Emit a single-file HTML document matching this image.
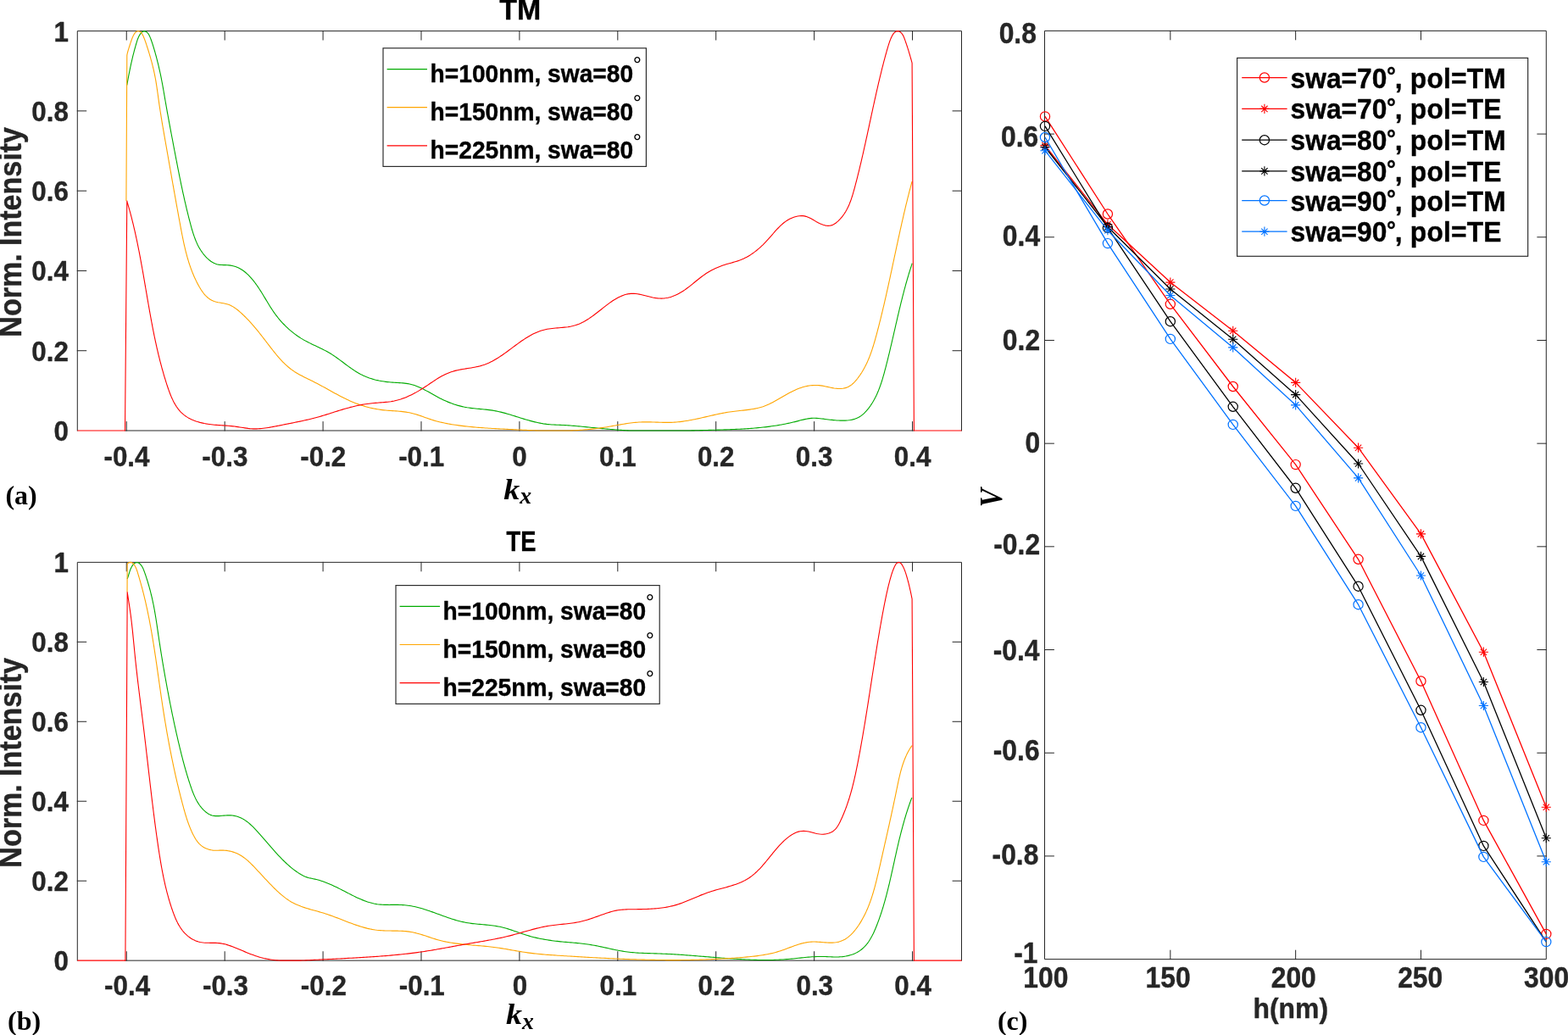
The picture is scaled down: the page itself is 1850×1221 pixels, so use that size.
<!DOCTYPE html>
<html lang="en"><head><meta charset="utf-8"><title>Figure: normalized intensity and V versus h</title>
<style>html,body{margin:0;padding:0;background:#fff}body{width:1850px;height:1221px;overflow:hidden}svg{display:block}</style>
</head><body>
<svg width="1850" height="1221" viewBox="0 0 1850 1221">
<rect width="1850" height="1221" fill="#fff"/>
<defs>
<clipPath id="clipa"><rect x="90.3" y="35.6" width="1045.2" height="473.4"/></clipPath>
<clipPath id="clipb"><rect x="90.3" y="662.35" width="1045.2" height="471.8"/></clipPath>
</defs>
<path d="M91.3 508V36.6H1134.5V508M147.6 508H1078.3M149.26 508v-10.4M149.26 36.6v10.4M265.17 508v-10.4M265.17 36.6v10.4M381.08 508v-10.4M381.08 36.6v10.4M496.99 508v-10.4M496.99 36.6v10.4M612.9 508v-10.4M612.9 36.6v10.4M728.81 508v-10.4M728.81 36.6v10.4M844.72 508v-10.4M844.72 36.6v10.4M960.63 508v-10.4M960.63 36.6v10.4M1076.54 508v-10.4M1076.54 36.6v10.4M91.3 413.72h10.4M1134.5 413.72h-10.4M91.3 319.44h10.4M1134.5 319.44h-10.4M91.3 225.16h10.4M1134.5 225.16h-10.4M91.3 130.88h10.4M1134.5 130.88h-10.4" fill="none" stroke="#262626" stroke-width="1.0" stroke-linecap="square"/>
<text transform="translate(149.46 550.2) scale(0.925 1)" font-family="'Liberation Sans', Arial, Helvetica, sans-serif" font-size="33.9" font-weight="bold" text-anchor="middle" fill="#262626" stroke="#262626" stroke-width="0.4" stroke-linejoin="round">-0.4</text>
<text transform="translate(265.37 550.2) scale(0.925 1)" font-family="'Liberation Sans', Arial, Helvetica, sans-serif" font-size="33.9" font-weight="bold" text-anchor="middle" fill="#262626" stroke="#262626" stroke-width="0.4" stroke-linejoin="round">-0.3</text>
<text transform="translate(381.28 550.2) scale(0.925 1)" font-family="'Liberation Sans', Arial, Helvetica, sans-serif" font-size="33.9" font-weight="bold" text-anchor="middle" fill="#262626" stroke="#262626" stroke-width="0.4" stroke-linejoin="round">-0.2</text>
<text transform="translate(497.19 550.2) scale(0.925 1)" font-family="'Liberation Sans', Arial, Helvetica, sans-serif" font-size="33.9" font-weight="bold" text-anchor="middle" fill="#262626" stroke="#262626" stroke-width="0.4" stroke-linejoin="round">-0.1</text>
<text transform="translate(612.9 550.2) scale(0.925 1)" font-family="'Liberation Sans', Arial, Helvetica, sans-serif" font-size="33.9" font-weight="bold" text-anchor="middle" fill="#262626" stroke="#262626" stroke-width="0.4" stroke-linejoin="round">0</text>
<text transform="translate(728.81 550.2) scale(0.925 1)" font-family="'Liberation Sans', Arial, Helvetica, sans-serif" font-size="33.9" font-weight="bold" text-anchor="middle" fill="#262626" stroke="#262626" stroke-width="0.4" stroke-linejoin="round">0.1</text>
<text transform="translate(844.72 550.2) scale(0.925 1)" font-family="'Liberation Sans', Arial, Helvetica, sans-serif" font-size="33.9" font-weight="bold" text-anchor="middle" fill="#262626" stroke="#262626" stroke-width="0.4" stroke-linejoin="round">0.2</text>
<text transform="translate(960.63 550.2) scale(0.925 1)" font-family="'Liberation Sans', Arial, Helvetica, sans-serif" font-size="33.9" font-weight="bold" text-anchor="middle" fill="#262626" stroke="#262626" stroke-width="0.4" stroke-linejoin="round">0.3</text>
<text transform="translate(1076.54 550.2) scale(0.925 1)" font-family="'Liberation Sans', Arial, Helvetica, sans-serif" font-size="33.9" font-weight="bold" text-anchor="middle" fill="#262626" stroke="#262626" stroke-width="0.4" stroke-linejoin="round">0.4</text>
<text transform="translate(80.9 519.9) scale(0.925 1)" font-family="'Liberation Sans', Arial, Helvetica, sans-serif" font-size="33.9" font-weight="bold" text-anchor="end" fill="#262626" stroke="#262626" stroke-width="0.4" stroke-linejoin="round">0</text>
<text transform="translate(80.9 425.62) scale(0.925 1)" font-family="'Liberation Sans', Arial, Helvetica, sans-serif" font-size="33.9" font-weight="bold" text-anchor="end" fill="#262626" stroke="#262626" stroke-width="0.4" stroke-linejoin="round">0.2</text>
<text transform="translate(80.9 331.34) scale(0.925 1)" font-family="'Liberation Sans', Arial, Helvetica, sans-serif" font-size="33.9" font-weight="bold" text-anchor="end" fill="#262626" stroke="#262626" stroke-width="0.4" stroke-linejoin="round">0.4</text>
<text transform="translate(80.9 237.06) scale(0.925 1)" font-family="'Liberation Sans', Arial, Helvetica, sans-serif" font-size="33.9" font-weight="bold" text-anchor="end" fill="#262626" stroke="#262626" stroke-width="0.4" stroke-linejoin="round">0.6</text>
<text transform="translate(80.9 142.78) scale(0.925 1)" font-family="'Liberation Sans', Arial, Helvetica, sans-serif" font-size="33.9" font-weight="bold" text-anchor="end" fill="#262626" stroke="#262626" stroke-width="0.4" stroke-linejoin="round">0.8</text>
<text transform="translate(80.9 48.5) scale(0.925 1)" font-family="'Liberation Sans', Arial, Helvetica, sans-serif" font-size="33.9" font-weight="bold" text-anchor="end" fill="#262626" stroke="#262626" stroke-width="0.4" stroke-linejoin="round">1</text>
<g clip-path="url(#clipa)">
<path d="M149.8 100.5L150.11 98.52L150.46 96.56L150.82 94.59L151.18 92.62L151.54 90.66L151.92 88.69L152.3 86.73L152.69 84.77L153.08 82.81L153.49 80.85L153.9 78.89L154.32 76.93L154.74 74.98L155.18 73.02L155.63 71.07L156.09 69.13L156.55 67.18L157.03 65.24L157.52 63.3L158.02 61.36L158.53 59.43L159.05 57.5L159.58 55.58L160.13 53.66L160.68 51.74L161.25 49.83L161.85 47.93L162.5 46.05L163.25 44.19L164.14 42.36L165.19 40.57L166.44 38.86L167.9 37.46L169.54 36.72L171.34 36.89L173.04 37.78L174.45 39.12L175.6 40.78L176.55 42.65L177.36 44.59L178.12 46.53L178.81 48.44L179.47 50.34L180.09 52.22L180.68 54.1L181.26 55.98L181.82 57.87L182.37 59.77L182.92 61.67L183.45 63.59L183.98 65.51L184.5 67.44L185.01 69.37L185.51 71.31L186 73.26L186.48 75.21L186.96 77.16L187.42 79.12L187.87 81.08L188.32 83.04L188.75 85L189.17 86.96L189.59 88.92L189.99 90.88L190.38 92.84L190.76 94.79L191.13 96.75L191.5 98.7L191.86 100.66L192.21 102.61L192.56 104.57L192.9 106.52L193.24 108.48L193.58 110.44L193.91 112.39L194.25 114.35L194.58 116.31L194.92 118.27L195.26 120.24L195.6 122.2L195.95 124.17L196.29 126.14L196.64 128.11L197 130.08L197.35 132.06L197.71 134.03L198.07 136.01L198.43 137.98L198.79 139.96L199.15 141.94L199.52 143.92L199.89 145.9L200.26 147.88L200.63 149.86L201 151.84L201.37 153.82L201.74 155.8L202.11 157.77L202.49 159.75L202.86 161.73L203.24 163.7L203.61 165.68L203.99 167.65L204.36 169.62L204.74 171.59L205.11 173.56L205.49 175.53L205.86 177.5L206.24 179.46L206.61 181.42L206.99 183.39L207.36 185.35L207.74 187.3L208.12 189.26L208.5 191.22L208.88 193.17L209.26 195.13L209.64 197.08L210.02 199.04L210.41 200.99L210.8 202.94L211.19 204.89L211.58 206.84L211.97 208.79L212.37 210.74L212.77 212.69L213.17 214.64L213.57 216.58L213.98 218.53L214.39 220.48L214.8 222.43L215.22 224.37L215.64 226.32L216.07 228.27L216.49 230.22L216.93 232.17L217.36 234.11L217.8 236.06L218.25 238.01L218.7 239.96L219.15 241.91L219.61 243.86L220.07 245.81L220.54 247.77L221.02 249.72L221.5 251.67L221.98 253.63L222.47 255.58L222.97 257.54L223.47 259.5L223.98 261.46L224.49 263.42L225.02 265.38L225.55 267.34L226.1 269.29L226.66 271.24L227.24 273.18L227.85 275.11L228.48 277.02L229.13 278.93L229.82 280.81L230.54 282.68L231.29 284.52L232.09 286.35L232.92 288.15L233.8 289.92L234.72 291.66L235.7 293.37L236.72 295.05L237.81 296.69L238.95 298.29L240.15 299.86L241.41 301.38L242.74 302.86L244.14 304.3L245.6 305.68L247.14 306.99L248.75 308.2L250.42 309.3L252.16 310.26L253.96 311.06L255.83 311.69L257.76 312.12L259.74 312.38L261.76 312.53L263.8 312.6L265.86 312.65L267.91 312.72L269.95 312.86L271.97 313.11L273.95 313.47L275.9 313.95L277.81 314.53L279.67 315.22L281.49 316.02L283.25 316.92L284.96 317.93L286.61 319.03L288.22 320.21L289.77 321.48L291.28 322.8L292.74 324.19L294.15 325.62L295.52 327.09L296.85 328.59L298.14 330.11L299.4 331.67L300.62 333.25L301.81 334.85L302.98 336.47L304.12 338.11L305.23 339.76L306.33 341.43L307.41 343.11L308.47 344.81L309.52 346.51L310.56 348.22L311.6 349.93L312.63 351.65L313.66 353.37L314.7 355.09L315.73 356.81L316.77 358.52L317.83 360.22L318.89 361.92L319.97 363.61L321.07 365.29L322.18 366.95L323.32 368.59L324.48 370.22L325.67 371.83L326.89 373.42L328.14 374.99L329.41 376.54L330.71 378.06L332.04 379.57L333.39 381.04L334.76 382.5L336.16 383.93L337.59 385.33L339.04 386.71L340.52 388.06L342.01 389.38L343.54 390.67L345.08 391.93L346.65 393.17L348.24 394.37L349.85 395.54L351.49 396.68L353.15 397.78L354.82 398.86L356.52 399.89L358.24 400.9L359.98 401.87L361.73 402.81L363.5 403.73L365.28 404.63L367.07 405.51L368.87 406.38L370.68 407.24L372.48 408.09L374.29 408.95L376.1 409.81L377.9 410.68L379.7 411.56L381.49 412.45L383.28 413.37L385.05 414.3L386.8 415.27L388.54 416.27L390.26 417.3L391.96 418.37L393.64 419.47L395.31 420.6L396.96 421.75L398.61 422.93L400.24 424.12L401.86 425.33L403.48 426.54L405.1 427.76L406.71 428.98L408.33 430.19L409.95 431.4L411.57 432.59L413.19 433.77L414.83 434.92L416.48 436.06L418.13 437.16L419.81 438.23L421.5 439.27L423.2 440.27L424.93 441.22L426.68 442.12L428.45 442.97L430.25 443.78L432.06 444.54L433.89 445.25L435.74 445.92L437.61 446.54L439.5 447.13L441.4 447.67L443.31 448.17L445.24 448.62L447.19 449.05L449.15 449.43L451.12 449.77L453.09 450.08L455.08 450.36L457.08 450.6L459.09 450.8L461.11 450.98L463.13 451.13L465.16 451.25L467.18 451.37L469.21 451.49L471.23 451.61L473.25 451.75L475.25 451.91L477.25 452.11L479.23 452.36L481.2 452.66L483.14 453.01L485.07 453.44L486.97 453.95L488.85 454.53L490.71 455.18L492.55 455.89L494.38 456.66L496.19 457.47L497.99 458.33L499.78 459.23L501.56 460.16L503.33 461.12L505.1 462.09L506.86 463.08L508.62 464.08L510.38 465.09L512.15 466.09L513.91 467.07L515.69 468.05L517.47 469L519.26 469.93L521.06 470.83L522.87 471.7L524.68 472.54L526.51 473.35L528.35 474.13L530.2 474.87L532.05 475.59L533.92 476.27L535.8 476.92L537.69 477.53L539.58 478.11L541.49 478.65L543.41 479.15L545.34 479.61L547.28 480.04L549.23 480.42L551.19 480.77L553.16 481.07L555.15 481.35L557.13 481.6L559.13 481.82L561.13 482.03L563.13 482.22L565.13 482.41L567.14 482.59L569.15 482.77L571.15 482.96L573.15 483.16L575.15 483.37L577.14 483.61L579.13 483.87L581.11 484.16L583.08 484.49L585.04 484.85L586.99 485.25L588.94 485.67L590.88 486.13L592.81 486.61L594.73 487.12L596.66 487.64L598.57 488.19L600.49 488.75L602.4 489.33L604.31 489.91L606.22 490.51L608.12 491.11L610.03 491.71L611.94 492.31L613.85 492.91L615.77 493.51L617.69 494.1L619.61 494.68L621.53 495.25L623.46 495.81L625.39 496.35L627.32 496.87L629.26 497.37L631.21 497.85L633.16 498.3L635.11 498.73L637.07 499.13L639.03 499.5L641 499.84L642.97 500.13L644.95 500.4L646.93 500.62L648.92 500.8L650.92 500.94L652.92 501.06L654.92 501.15L656.92 501.24L658.92 501.31L660.93 501.38L662.93 501.46L664.93 501.55L666.93 501.66L668.93 501.77L670.93 501.9L672.92 502.04L674.91 502.19L676.9 502.35L678.89 502.52L680.88 502.69L682.87 502.87L684.86 503.06L686.85 503.25L688.84 503.44L690.82 503.64L692.81 503.84L694.8 504.04L696.78 504.24L698.77 504.44L700.76 504.64L702.75 504.83L704.74 505.03L706.73 505.22L708.72 505.41L710.71 505.6L712.7 505.79L714.69 505.97L716.68 506.15L718.67 506.32L720.67 506.49L722.66 506.65L724.65 506.81L726.64 506.97L728.64 507.12L730.63 507.26L732.63 507.4L734.62 507.53L736.61 507.65L738.61 507.77L740.6 507.87L742.6 507.97L744.59 508L746.59 508L748.59 508L750.58 508L752.58 508L754.57 508L756.57 508L758.57 508L760.56 508L762.56 508L764.56 508L766.56 508L768.56 508L770.55 508L772.55 508L774.55 508L776.55 508L778.55 508L780.55 508L782.55 508L784.55 508L786.55 508L788.55 508L790.55 508L792.55 508L794.55 508L796.55 508L798.55 508L800.55 508L802.55 508L804.55 508L806.55 508L808.55 508L810.55 508L812.56 507.99L814.56 507.94L816.56 507.89L818.56 507.84L820.56 507.78L822.57 507.73L824.57 507.68L826.57 507.63L828.58 507.58L830.58 507.53L832.58 507.48L834.58 507.43L836.59 507.38L838.59 507.34L840.59 507.29L842.6 507.24L844.6 507.19L846.6 507.14L848.61 507.09L850.61 507.03L852.61 506.98L854.61 506.92L856.61 506.86L858.61 506.79L860.61 506.72L862.61 506.65L864.61 506.57L866.61 506.49L868.61 506.4L870.61 506.31L872.6 506.21L874.6 506.11L876.59 506L878.59 505.88L880.58 505.76L882.57 505.63L884.57 505.49L886.56 505.34L888.55 505.19L890.53 505.02L892.52 504.85L894.51 504.67L896.49 504.47L898.48 504.27L900.46 504.06L902.44 503.84L904.42 503.6L906.4 503.36L908.37 503.1L910.35 502.83L912.32 502.55L914.3 502.25L916.27 501.94L918.23 501.62L920.2 501.29L922.17 500.94L924.13 500.58L926.09 500.2L928.05 499.8L930.01 499.4L931.97 498.97L933.92 498.53L935.87 498.07L937.82 497.6L939.77 497.11L941.72 496.6L943.66 496.09L945.61 495.58L947.56 495.1L949.51 494.64L951.47 494.23L953.43 493.88L955.4 493.61L957.39 493.42L959.38 493.32L961.38 493.32L963.39 493.39L965.4 493.52L967.42 493.71L969.43 493.93L971.44 494.17L973.45 494.43L975.45 494.68L977.44 494.94L979.43 495.18L981.41 495.4L983.39 495.61L985.37 495.79L987.35 495.95L989.34 496.06L991.32 496.14L993.31 496.17L995.3 496.15L997.29 496.08L999.3 495.95L1001.3 495.75L1003.31 495.47L1005.29 495.1L1007.24 494.63L1009.16 494.05L1011.01 493.34L1012.8 492.5L1014.51 491.51L1016.16 490.39L1017.73 489.17L1019.23 487.84L1020.68 486.43L1022.06 484.94L1023.38 483.4L1024.65 481.81L1025.87 480.2L1027.04 478.56L1028.15 476.89L1029.23 475.2L1030.26 473.49L1031.24 471.76L1032.18 470.01L1033.09 468.25L1033.96 466.46L1034.79 464.65L1035.59 462.83L1036.36 461L1037.09 459.15L1037.8 457.29L1038.48 455.42L1039.14 453.53L1039.78 451.64L1040.39 449.73L1040.98 447.82L1041.56 445.9L1042.12 443.97L1042.67 442.04L1043.21 440.11L1043.73 438.17L1044.25 436.23L1044.76 434.29L1045.27 432.34L1045.77 430.4L1046.26 428.46L1046.75 426.51L1047.24 424.57L1047.72 422.62L1048.2 420.68L1048.67 418.73L1049.14 416.78L1049.61 414.84L1050.07 412.89L1050.53 410.94L1050.99 408.99L1051.45 407.04L1051.9 405.09L1052.36 403.15L1052.81 401.2L1053.26 399.25L1053.71 397.3L1054.15 395.35L1054.6 393.4L1055.04 391.45L1055.49 389.51L1055.94 387.56L1056.38 385.61L1056.83 383.66L1057.27 381.71L1057.72 379.77L1058.17 377.82L1058.62 375.88L1059.07 373.93L1059.53 371.99L1059.98 370.04L1060.44 368.1L1060.9 366.15L1061.36 364.21L1061.83 362.27L1062.3 360.33L1062.77 358.39L1063.25 356.45L1063.73 354.51L1064.22 352.57L1064.7 350.64L1065.2 348.7L1065.7 346.77L1066.2 344.83L1066.71 342.9L1067.22 340.97L1067.74 339.04L1068.27 337.11L1068.8 335.19L1069.34 333.26L1069.89 331.33L1070.44 329.41L1071 327.49L1071.57 325.57L1072.14 323.65L1072.72 321.73L1073.32 319.82L1073.92 317.91L1074.52 315.99L1075.14 314.08L1075.77 312.17L1076.1 310.6" fill="none" stroke="#00ab00" stroke-width="1.1" stroke-linejoin="round"/>
<path d="M148.91 237L149.8 65.4L150.15 63.46L150.61 61.51L151.15 59.56L151.75 57.62L152.38 55.68L153 53.78L153.6 51.9L154.19 50.05L154.81 48.21L155.47 46.36L156.21 44.5L157.05 42.61L158.02 40.69L159.16 38.92L160.55 37.53L162.23 36.77L164.1 36.8L165.82 37.65L167.18 39.19L168.25 40.97L169.13 42.81L169.9 44.67L170.62 46.53L171.32 48.41L171.98 50.29L172.63 52.17L173.25 54.06L173.86 55.96L174.47 57.86L175.06 59.77L175.65 61.68L176.23 63.59L176.8 65.51L177.35 67.44L177.9 69.36L178.44 71.29L178.96 73.23L179.47 75.16L179.97 77.1L180.45 79.05L180.92 80.99L181.37 82.94L181.8 84.9L182.22 86.85L182.62 88.81L183.01 90.77L183.37 92.73L183.72 94.7L184.06 96.67L184.38 98.64L184.69 100.61L184.99 102.58L185.28 104.55L185.57 106.53L185.84 108.5L186.12 110.48L186.39 112.46L186.66 114.43L186.94 116.41L187.21 118.39L187.49 120.37L187.77 122.35L188.06 124.32L188.35 126.3L188.65 128.28L188.95 130.26L189.26 132.23L189.57 134.21L189.89 136.19L190.2 138.16L190.53 140.14L190.85 142.11L191.18 144.09L191.51 146.06L191.84 148.04L192.18 150.01L192.52 151.99L192.86 153.96L193.2 155.94L193.54 157.91L193.88 159.88L194.23 161.85L194.57 163.83L194.92 165.8L195.27 167.77L195.62 169.74L195.96 171.71L196.31 173.68L196.66 175.65L197 177.62L197.35 179.59L197.7 181.56L198.04 183.53L198.39 185.5L198.73 187.47L199.08 189.44L199.42 191.4L199.77 193.37L200.12 195.34L200.46 197.31L200.81 199.27L201.15 201.24L201.5 203.21L201.84 205.17L202.19 207.14L202.54 209.11L202.88 211.08L203.23 213.04L203.58 215.01L203.92 216.97L204.27 218.94L204.62 220.91L204.97 222.87L205.32 224.84L205.67 226.81L206.02 228.77L206.37 230.74L206.72 232.71L207.07 234.68L207.42 236.64L207.78 238.61L208.13 240.58L208.49 242.54L208.84 244.51L209.2 246.48L209.55 248.45L209.91 250.42L210.27 252.39L210.63 254.36L210.99 256.32L211.35 258.29L211.71 260.26L212.08 262.23L212.44 264.21L212.81 266.18L213.17 268.15L213.54 270.12L213.92 272.09L214.29 274.06L214.67 276.03L215.06 278L215.45 279.96L215.85 281.93L216.26 283.89L216.68 285.85L217.1 287.81L217.54 289.76L217.99 291.71L218.45 293.66L218.92 295.6L219.41 297.54L219.91 299.48L220.43 301.41L220.96 303.33L221.51 305.25L222.08 307.16L222.66 309.07L223.27 310.97L223.9 312.86L224.54 314.75L225.21 316.63L225.91 318.5L226.62 320.37L227.36 322.22L228.13 324.07L228.92 325.91L229.73 327.74L230.58 329.56L231.45 331.37L232.36 333.17L233.29 334.96L234.26 336.74L235.25 338.51L236.29 340.25L237.36 341.97L238.49 343.64L239.66 345.26L240.89 346.81L242.18 348.29L243.54 349.69L244.97 350.99L246.48 352.19L248.07 353.27L249.75 354.23L251.52 355.05L253.38 355.73L255.33 356.27L257.36 356.7L259.43 357.07L261.51 357.42L263.6 357.77L265.66 358.18L267.67 358.68L269.61 359.31L271.47 360.06L273.27 360.92L275 361.89L276.67 362.95L278.3 364.09L279.88 365.29L281.42 366.55L282.93 367.84L284.41 369.16L285.87 370.51L287.31 371.87L288.73 373.25L290.13 374.65L291.52 376.06L292.88 377.49L294.23 378.93L295.57 380.39L296.89 381.87L298.2 383.36L299.49 384.86L300.78 386.37L302.05 387.89L303.32 389.43L304.58 390.97L305.83 392.53L307.07 394.09L308.31 395.66L309.55 397.24L310.78 398.83L312.01 400.42L313.24 402.02L314.47 403.63L315.7 405.24L316.93 406.85L318.17 408.46L319.41 410.07L320.65 411.68L321.91 413.28L323.17 414.87L324.45 416.45L325.73 418.02L327.03 419.57L328.35 421.11L329.68 422.62L331.03 424.11L332.4 425.58L333.78 427.02L335.19 428.43L336.63 429.81L338.09 431.16L339.57 432.47L341.08 433.74L342.62 434.98L344.19 436.17L345.8 437.31L347.43 438.41L349.1 439.46L350.79 440.48L352.51 441.47L354.24 442.42L356 443.36L357.77 444.27L359.55 445.17L361.35 446.05L363.15 446.93L364.95 447.81L366.75 448.69L368.56 449.57L370.35 450.47L372.14 451.39L373.93 452.31L375.71 453.25L377.48 454.2L379.25 455.15L381.01 456.12L382.78 457.09L384.53 458.06L386.29 459.04L388.05 460.01L389.8 460.99L391.56 461.96L393.32 462.93L395.07 463.9L396.83 464.85L398.6 465.8L400.36 466.74L402.13 467.67L403.91 468.58L405.69 469.48L407.48 470.36L409.27 471.22L411.07 472.07L412.88 472.89L414.7 473.69L416.53 474.47L418.37 475.22L420.22 475.94L422.08 476.63L423.95 477.3L425.83 477.94L427.72 478.55L429.62 479.13L431.53 479.68L433.45 480.21L435.38 480.7L437.31 481.17L439.26 481.6L441.21 482.01L443.17 482.39L445.13 482.74L447.1 483.06L449.08 483.34L451.07 483.6L453.06 483.83L455.05 484.03L457.05 484.2L459.06 484.36L461.06 484.51L463.07 484.64L465.08 484.78L467.08 484.92L469.08 485.07L471.08 485.23L473.08 485.42L475.07 485.62L477.05 485.86L479.03 486.14L481 486.45L482.95 486.81L484.9 487.22L486.84 487.69L488.76 488.21L490.68 488.77L492.59 489.37L494.49 489.99L496.39 490.64L498.28 491.31L500.18 491.99L502.07 492.66L503.97 493.34L505.87 494L507.77 494.64L509.68 495.26L511.6 495.85L513.53 496.41L515.46 496.94L517.39 497.45L519.34 497.93L521.28 498.38L523.24 498.82L525.2 499.23L527.16 499.62L529.12 499.99L531.09 500.34L533.06 500.67L535.04 500.99L537.01 501.29L538.99 501.58L540.97 501.86L542.95 502.12L544.93 502.37L546.91 502.61L548.89 502.84L550.87 503.06L552.86 503.27L554.84 503.47L556.83 503.67L558.81 503.85L560.8 504.03L562.78 504.19L564.77 504.35L566.76 504.51L568.75 504.66L570.74 504.8L572.73 504.93L574.72 505.06L576.71 505.19L578.7 505.31L580.69 505.43L582.69 505.54L584.68 505.65L586.68 505.76L588.67 505.87L590.67 505.97L592.67 506.07L594.66 506.17L596.66 506.27L598.66 506.37L600.66 506.47L602.66 506.57L604.66 506.67L606.66 506.77L608.66 506.87L610.66 506.97L612.67 507.06L614.67 507.15L616.67 507.24L618.68 507.33L620.68 507.42L622.68 507.5L624.69 507.58L626.69 507.66L628.69 507.74L630.7 507.81L632.7 507.87L634.71 507.93L636.71 507.99L638.72 508L640.72 508L642.72 508L644.73 508L646.73 508L648.73 508L650.74 508L652.74 508L654.74 508L656.74 508L658.74 508L660.74 508L662.74 508L664.74 508L666.74 508L668.74 508L670.73 508L672.73 507.96L674.73 507.88L676.72 507.8L678.71 507.7L680.71 507.59L682.7 507.48L684.69 507.35L686.68 507.21L688.67 507.06L690.66 506.9L692.64 506.73L694.63 506.55L696.61 506.35L698.6 506.14L700.58 505.92L702.56 505.69L704.54 505.44L706.51 505.18L708.49 504.91L710.46 504.62L712.44 504.32L714.41 504L716.38 503.67L718.35 503.33L720.32 502.99L722.28 502.63L724.25 502.28L726.22 501.92L728.18 501.56L730.15 501.21L732.12 500.86L734.09 500.52L736.06 500.2L738.03 499.88L740.01 499.58L741.98 499.29L743.96 499.03L745.94 498.78L747.92 498.56L749.91 498.37L751.9 498.2L753.89 498.07L755.89 497.96L757.89 497.89L759.9 497.85L761.9 497.84L763.91 497.85L765.93 497.88L767.94 497.92L769.95 497.97L771.97 498.03L773.98 498.1L776 498.17L778.01 498.23L780.02 498.29L782.04 498.34L784.04 498.38L786.05 498.4L788.05 498.4L790.05 498.38L792.05 498.33L794.04 498.25L796.03 498.13L798.01 497.99L799.99 497.81L801.96 497.6L803.93 497.37L805.9 497.1L807.86 496.82L809.82 496.51L811.78 496.18L813.73 495.83L815.69 495.46L817.64 495.08L819.59 494.68L821.54 494.27L823.49 493.85L825.43 493.42L827.38 492.98L829.33 492.54L831.28 492.09L833.23 491.64L835.18 491.18L837.13 490.73L839.08 490.28L841.04 489.84L842.99 489.4L844.95 488.97L846.92 488.55L848.88 488.14L850.85 487.74L852.82 487.36L854.8 486.99L856.78 486.64L858.76 486.31L860.75 486L862.75 485.71L864.75 485.45L866.75 485.2L868.75 484.97L870.76 484.75L872.77 484.53L874.77 484.31L876.78 484.1L878.78 483.87L880.77 483.63L882.76 483.38L884.74 483.1L886.71 482.81L888.67 482.48L890.62 482.12L892.56 481.72L894.49 481.28L896.4 480.79L898.29 480.25L900.16 479.66L902.02 479.01L903.86 478.3L905.68 477.53L907.49 476.72L909.28 475.86L911.06 474.96L912.83 474.04L914.59 473.08L916.35 472.1L918.1 471.1L919.85 470.09L921.6 469.07L923.35 468.05L925.1 467.03L926.85 466.02L928.61 465.02L930.38 464.03L932.16 463.08L933.94 462.15L935.74 461.25L937.56 460.39L939.39 459.57L941.23 458.81L943.1 458.09L944.98 457.43L946.88 456.83L948.79 456.29L950.71 455.81L952.64 455.4L954.58 455.06L956.53 454.79L958.49 454.59L960.45 454.48L962.42 454.44L964.38 454.49L966.35 454.62L968.32 454.84L970.29 455.15L972.25 455.51L974.22 455.92L976.2 456.36L978.17 456.8L980.16 457.23L982.15 457.62L984.15 457.97L986.16 458.24L988.18 458.42L990.21 458.49L992.26 458.44L994.29 458.24L996.29 457.89L998.23 457.37L1000.08 456.67L1001.84 455.79L1003.5 454.75L1005.08 453.57L1006.59 452.27L1008.02 450.87L1009.38 449.39L1010.69 447.84L1011.95 446.26L1013.16 444.64L1014.33 443.01L1015.45 441.35L1016.54 439.68L1017.58 437.98L1018.59 436.26L1019.56 434.53L1020.5 432.78L1021.4 431.01L1022.28 429.23L1023.12 427.43L1023.93 425.62L1024.71 423.79L1025.47 421.95L1026.2 420.1L1026.9 418.24L1027.59 416.36L1028.25 414.48L1028.89 412.59L1029.52 410.69L1030.12 408.78L1030.72 406.87L1031.29 404.94L1031.86 403.02L1032.41 401.09L1032.95 399.15L1033.49 397.22L1034.01 395.28L1034.53 393.34L1035.05 391.39L1035.56 389.45L1036.06 387.51L1036.57 385.57L1037.06 383.62L1037.56 381.68L1038.05 379.73L1038.54 377.79L1039.02 375.84L1039.5 373.9L1039.97 371.95L1040.44 370L1040.91 368.06L1041.38 366.11L1041.84 364.16L1042.3 362.21L1042.76 360.26L1043.21 358.31L1043.66 356.36L1044.11 354.41L1044.56 352.46L1045 350.51L1045.44 348.56L1045.88 346.61L1046.32 344.66L1046.75 342.71L1047.19 340.76L1047.62 338.81L1048.05 336.85L1048.48 334.9L1048.9 332.95L1049.33 331L1049.75 329.04L1050.18 327.09L1050.6 325.14L1051.02 323.19L1051.44 321.23L1051.86 319.28L1052.28 317.33L1052.69 315.37L1053.11 313.42L1053.53 311.47L1053.94 309.51L1054.36 307.56L1054.78 305.61L1055.19 303.65L1055.61 301.7L1056.03 299.75L1056.44 297.79L1056.86 295.84L1057.28 293.89L1057.7 291.93L1058.12 289.98L1058.54 288.03L1058.96 286.08L1059.38 284.12L1059.8 282.17L1060.23 280.22L1060.65 278.27L1061.08 276.32L1061.51 274.36L1061.94 272.41L1062.37 270.46L1062.8 268.51L1063.24 266.56L1063.67 264.61L1064.11 262.66L1064.56 260.71L1065 258.76L1065.45 256.81L1065.9 254.86L1066.35 252.92L1066.8 250.97L1067.26 249.02L1067.72 247.07L1068.18 245.13L1068.65 243.18L1069.12 241.24L1069.59 239.29L1070.07 237.35L1070.55 235.4L1071.03 233.46L1071.52 231.51L1072.01 229.57L1072.5 227.63L1073 225.69L1073.51 223.75L1074.01 221.81L1074.52 219.87L1075.04 217.93L1075.56 215.99L1076.09 214.05L1076.1 214" fill="none" stroke="#ffa500" stroke-width="1.1" stroke-linejoin="round"/>
<path d="M91.3 508L147.5 508L149.8 237L150.28 238.99L150.85 240.89L151.4 242.8L151.95 244.7L152.49 246.61L153.02 248.53L153.54 250.44L154.06 252.36L154.57 254.29L155.07 256.21L155.56 258.14L156.05 260.08L156.53 262.01L157 263.95L157.47 265.89L157.93 267.83L158.38 269.78L158.83 271.73L159.27 273.68L159.71 275.63L160.14 277.58L160.57 279.54L160.99 281.5L161.4 283.46L161.82 285.42L162.22 287.39L162.62 289.35L163.02 291.32L163.41 293.29L163.8 295.26L164.19 297.23L164.57 299.21L164.94 301.18L165.32 303.15L165.69 305.13L166.06 307.11L166.42 309.08L166.78 311.06L167.14 313.04L167.5 315.02L167.85 317L168.2 318.98L168.55 320.96L168.9 322.94L169.25 324.92L169.59 326.9L169.93 328.88L170.28 330.86L170.62 332.84L170.96 334.82L171.3 336.79L171.63 338.77L171.97 340.75L172.31 342.73L172.65 344.7L172.99 346.68L173.32 348.65L173.66 350.62L174 352.59L174.34 354.56L174.68 356.53L175.02 358.5L175.36 360.47L175.71 362.43L176.05 364.39L176.4 366.35L176.75 368.31L177.1 370.27L177.45 372.22L177.8 374.18L178.16 376.13L178.52 378.08L178.88 380.02L179.25 381.97L179.62 383.91L179.99 385.86L180.37 387.8L180.75 389.74L181.13 391.68L181.52 393.62L181.91 395.56L182.31 397.49L182.72 399.43L183.13 401.37L183.54 403.3L183.96 405.24L184.38 407.17L184.82 409.11L185.25 411.04L185.7 412.98L186.15 414.91L186.61 416.85L187.07 418.78L187.55 420.72L188.03 422.66L188.52 424.6L189.01 426.53L189.52 428.47L190.03 430.41L190.55 432.36L191.08 434.3L191.62 436.24L192.17 438.19L192.73 440.14L193.29 442.09L193.87 444.04L194.46 445.99L195.06 447.94L195.66 449.9L196.28 451.86L196.91 453.82L197.56 455.78L198.21 457.74L198.89 459.69L199.58 461.64L200.3 463.56L201.05 465.48L201.82 467.37L202.63 469.23L203.47 471.07L204.35 472.88L205.27 474.65L206.23 476.39L207.24 478.08L208.3 479.73L209.4 481.32L210.57 482.87L211.79 484.35L213.07 485.78L214.41 487.15L215.82 488.44L217.29 489.67L218.84 490.82L220.45 491.9L222.13 492.9L223.86 493.84L225.65 494.71L227.48 495.52L229.35 496.26L231.25 496.94L233.19 497.57L235.14 498.14L237.12 498.66L239.11 499.12L241.11 499.54L243.11 499.91L245.11 500.23L247.1 500.52L249.09 500.77L251.07 500.99L253.06 501.18L255.04 501.35L257.02 501.5L259 501.64L260.97 501.77L262.95 501.9L264.93 502.03L266.9 502.16L268.88 502.3L270.86 502.46L272.84 502.64L274.82 502.84L276.81 503.07L278.8 503.33L280.79 503.62L282.78 503.93L284.78 504.25L286.78 504.57L288.78 504.87L290.78 505.15L292.77 505.4L294.77 505.6L296.77 505.75L298.76 505.84L300.75 505.87L302.74 505.84L304.73 505.77L306.71 505.64L308.7 505.48L310.68 505.27L312.66 505.03L314.64 504.75L316.62 504.45L318.6 504.12L320.57 503.77L322.55 503.4L324.52 503.02L326.49 502.63L328.46 502.24L330.43 501.84L332.4 501.44L334.37 501.05L336.33 500.65L338.3 500.26L340.26 499.87L342.23 499.48L344.19 499.09L346.15 498.7L348.11 498.31L350.06 497.91L352.02 497.5L353.97 497.1L355.92 496.68L357.87 496.26L359.82 495.83L361.77 495.39L363.71 494.94L365.65 494.48L367.59 494L369.52 493.52L371.46 493.02L373.39 492.51L375.31 491.98L377.24 491.43L379.16 490.87L381.08 490.3L383 489.71L384.91 489.12L386.83 488.52L388.74 487.92L390.65 487.31L392.56 486.7L394.48 486.09L396.39 485.48L398.3 484.88L400.21 484.28L402.13 483.69L404.04 483.11L405.96 482.54L407.88 481.98L409.8 481.43L411.72 480.91L413.65 480.4L415.58 479.91L417.51 479.44L419.45 478.99L421.39 478.56L423.34 478.15L425.29 477.76L427.24 477.4L429.2 477.06L431.17 476.74L433.14 476.45L435.12 476.18L437.11 475.94L439.1 475.72L441.1 475.52L443.1 475.35L445.12 475.19L447.13 475.04L449.14 474.9L451.16 474.74L453.17 474.58L455.17 474.4L457.17 474.19L459.16 473.95L461.14 473.67L463.11 473.34L465.06 472.97L467 472.53L468.92 472.05L470.83 471.52L472.72 470.94L474.6 470.31L476.47 469.64L478.32 468.92L480.16 468.16L481.98 467.37L483.79 466.54L485.59 465.67L487.38 464.77L489.15 463.83L490.92 462.87L492.67 461.88L494.4 460.86L496.13 459.82L497.84 458.76L499.55 457.68L501.24 456.58L502.92 455.46L504.6 454.34L506.27 453.21L507.95 452.08L509.62 450.96L511.29 449.84L512.96 448.74L514.65 447.65L516.34 446.59L518.04 445.55L519.75 444.55L521.48 443.58L523.23 442.65L524.99 441.77L526.78 440.93L528.59 440.15L530.42 439.43L532.29 438.77L534.18 438.17L536.09 437.63L538.03 437.14L539.99 436.7L541.96 436.29L543.95 435.91L545.95 435.56L547.95 435.22L549.96 434.9L551.98 434.58L553.99 434.26L556 433.93L558 433.58L559.99 433.21L561.97 432.82L563.94 432.39L565.88 431.91L567.81 431.39L569.71 430.81L571.58 430.18L573.43 429.48L575.26 428.73L577.06 427.93L578.84 427.09L580.6 426.2L582.35 425.26L584.07 424.29L585.78 423.28L587.48 422.24L589.16 421.16L590.83 420.06L592.49 418.94L594.13 417.79L595.78 416.63L597.41 415.45L599.04 414.26L600.66 413.06L602.28 411.85L603.9 410.64L605.52 409.43L607.13 408.22L608.76 407.02L610.38 405.82L612.01 404.64L613.64 403.47L615.28 402.32L616.93 401.19L618.59 400.09L620.26 399L621.95 397.95L623.65 396.94L625.36 395.95L627.09 395.01L628.83 394.11L630.6 393.25L632.38 392.43L634.19 391.67L636.01 390.97L637.87 390.31L639.74 389.72L641.65 389.19L643.58 388.73L645.54 388.33L647.53 387.99L649.54 387.7L651.56 387.46L653.6 387.24L655.65 387.05L657.7 386.88L659.75 386.71L661.81 386.55L663.85 386.37L665.89 386.17L667.91 385.94L669.92 385.68L671.9 385.37L673.86 385L675.79 384.57L677.68 384.07L679.54 383.5L681.37 382.86L683.17 382.15L684.94 381.38L686.69 380.55L688.42 379.66L690.12 378.73L691.8 377.74L693.47 376.71L695.13 375.64L696.77 374.53L698.4 373.38L700.02 372.21L701.64 371.01L703.26 369.78L704.87 368.53L706.48 367.27L708.1 365.99L709.71 364.71L711.34 363.42L712.97 362.13L714.61 360.86L716.25 359.6L717.91 358.35L719.57 357.14L721.25 355.96L722.93 354.82L724.63 353.72L726.34 352.68L728.06 351.69L729.8 350.77L731.56 349.91L733.33 349.13L735.12 348.43L736.92 347.83L738.75 347.31L740.59 346.89L742.45 346.58L744.34 346.39L746.25 346.31L748.18 346.35L750.13 346.5L752.1 346.76L754.09 347.09L756.09 347.5L758.1 347.95L760.13 348.45L762.15 348.96L764.19 349.49L766.22 350L768.26 350.49L770.29 350.94L772.32 351.34L774.34 351.66L776.35 351.91L778.35 352.05L780.34 352.08L782.31 352.01L784.26 351.83L786.19 351.55L788.11 351.18L790.01 350.71L791.89 350.16L793.74 349.54L795.58 348.83L797.39 348.05L799.17 347.21L800.93 346.3L802.66 345.33L804.37 344.31L806.05 343.24L807.7 342.13L809.34 340.97L810.95 339.79L812.55 338.57L814.14 337.34L815.72 336.08L817.29 334.81L818.85 333.54L820.42 332.26L821.98 330.98L823.55 329.72L825.13 328.46L826.72 327.23L828.32 326.02L829.94 324.84L831.58 323.69L833.23 322.58L834.91 321.52L836.62 320.49L838.35 319.51L840.1 318.58L841.87 317.68L843.66 316.82L845.47 316L847.3 315.22L849.16 314.47L851.02 313.76L852.91 313.09L854.81 312.45L856.73 311.84L858.67 311.26L860.61 310.7L862.56 310.16L864.51 309.61L866.45 309.06L868.38 308.49L870.29 307.88L872.18 307.23L874.05 306.53L875.88 305.77L877.68 304.96L879.45 304.09L881.19 303.17L882.9 302.21L884.59 301.19L886.25 300.13L887.88 299.02L889.49 297.87L891.08 296.68L892.64 295.45L894.17 294.19L895.69 292.89L897.18 291.55L898.65 290.18L900.11 288.79L901.54 287.36L902.95 285.91L904.35 284.43L905.73 282.94L907.09 281.42L908.44 279.88L909.78 278.34L911.12 276.8L912.46 275.26L913.8 273.73L915.15 272.21L916.51 270.72L917.89 269.25L919.29 267.82L920.72 266.43L922.17 265.08L923.66 263.79L925.19 262.55L926.75 261.38L928.36 260.28L930.03 259.25L931.74 258.3L933.51 257.44L935.35 256.68L937.25 256.01L939.2 255.46L941.19 255.03L943.2 254.74L945.2 254.62L947.17 254.66L949.1 254.9L950.96 255.34L952.76 255.95L954.53 256.71L956.28 257.6L958.03 258.57L959.8 259.59L961.6 260.65L963.45 261.71L965.35 262.73L967.28 263.68L969.24 264.54L971.21 265.27L973.18 265.84L975.13 266.22L977.06 266.38L978.96 266.27L980.8 265.89L982.59 265.22L984.32 264.3L985.97 263.2L987.56 261.94L989.08 260.58L990.52 259.16L991.88 257.69L993.18 256.18L994.4 254.62L995.56 253.03L996.65 251.39L997.68 249.72L998.66 248.02L999.59 246.28L1000.46 244.52L1001.29 242.72L1002.08 240.91L1002.82 239.06L1003.53 237.2L1004.21 235.32L1004.85 233.42L1005.47 231.51L1006.06 229.59L1006.64 227.65L1007.19 225.71L1007.73 223.76L1008.26 221.81L1008.79 219.85L1009.3 217.9L1009.82 215.95L1010.32 213.99L1010.83 212.04L1011.32 210.08L1011.82 208.13L1012.31 206.18L1012.79 204.22L1013.27 202.27L1013.75 200.32L1014.22 198.36L1014.69 196.41L1015.16 194.46L1015.62 192.51L1016.08 190.55L1016.54 188.6L1016.99 186.65L1017.44 184.7L1017.89 182.75L1018.33 180.79L1018.77 178.84L1019.21 176.89L1019.65 174.94L1020.08 172.99L1020.52 171.04L1020.95 169.08L1021.38 167.13L1021.81 165.18L1022.23 163.23L1022.66 161.28L1023.08 159.33L1023.51 157.38L1023.93 155.43L1024.35 153.48L1024.77 151.53L1025.19 149.58L1025.61 147.63L1026.03 145.68L1026.45 143.73L1026.87 141.78L1027.29 139.83L1027.71 137.88L1028.13 135.94L1028.55 133.99L1028.97 132.04L1029.39 130.09L1029.81 128.14L1030.24 126.19L1030.66 124.25L1031.09 122.3L1031.52 120.35L1031.95 118.4L1032.38 116.45L1032.81 114.51L1033.24 112.56L1033.68 110.61L1034.12 108.67L1034.56 106.72L1035.01 104.77L1035.45 102.83L1035.9 100.88L1036.36 98.93L1036.81 96.99L1037.27 95.04L1037.73 93.1L1038.2 91.15L1038.66 89.21L1039.14 87.26L1039.61 85.32L1040.09 83.37L1040.58 81.43L1041.07 79.48L1041.56 77.54L1042.06 75.59L1042.56 73.65L1043.07 71.71L1043.58 69.77L1044.1 67.84L1044.62 65.91L1045.15 63.98L1045.69 62.06L1046.23 60.14L1046.78 58.23L1047.34 56.33L1047.91 54.43L1048.49 52.54L1049.1 50.65L1049.75 48.77L1050.46 46.9L1051.23 45.03L1052.09 43.16L1053.05 41.32L1054.19 39.62L1055.55 38.17L1057.21 37.08L1059.06 36.6L1060.89 36.94L1062.55 38.02L1063.96 39.47L1065.11 41.1L1066.05 42.88L1066.84 44.74L1067.55 46.65L1068.23 48.56L1068.89 50.47L1069.54 52.37L1070.16 54.26L1070.78 56.16L1071.38 58.05L1071.96 59.95L1072.54 61.85L1073.11 63.75L1073.66 65.66L1074.22 67.58L1074.76 69.51L1075.3 71.44L1075.84 73.39L1076.1 74.3L1078.4 508L1134.5 508" fill="none" stroke="#ff0000" stroke-width="1.1" stroke-linejoin="round"/>
</g>
<text transform="translate(24.8 273.9) rotate(-90) scale(0.945 1)" font-family="'Liberation Sans', Arial, Helvetica, sans-serif" font-size="36" font-weight="bold" text-anchor="middle" fill="#262626" stroke="#262626" stroke-width="0.4" stroke-linejoin="round">Norm. Intensity</text>
<text transform="translate(613.65 22.6) scale(0.953 1)" font-family="'Liberation Sans', Arial, Helvetica, sans-serif" font-size="35.6" font-weight="bold" text-anchor="middle" fill="#000" stroke="#000" stroke-width="0.4" stroke-linejoin="round">TM</text>
<text transform="translate(594.3 588.5) scale(1.11 1)" font-family="'Liberation Serif', 'Times New Roman', serif" font-size="34.2" font-weight="bold" font-style="italic" text-anchor="start" fill="#000">k</text>
<text transform="translate(613.2 594.4) scale(1.04 1)" font-family="'Liberation Serif', 'Times New Roman', serif" font-size="26.7" font-weight="bold" font-style="italic" text-anchor="start" fill="#000">x</text>
<text transform="translate(6.4 595.1)" font-family="'Liberation Serif', 'Times New Roman', serif" font-size="32" font-weight="bold" text-anchor="start" fill="#000">(a)</text>
<rect x="452" y="56.8" width="310.4" height="139.6" fill="#fff" stroke="#262626" stroke-width="1.15"/>
<path d="M456.6 81.6h47.4" stroke="#00ab00" stroke-width="1.2" fill="none"/>
<text transform="translate(507.6 96.7) scale(0.945 1)" font-family="'Liberation Sans', Arial, Helvetica, sans-serif" font-size="29.8" font-weight="bold" text-anchor="start" fill="#000" stroke="#000" stroke-width="0.4" stroke-linejoin="round">h=100nm, swa=80</text>
<text transform="translate(746.8 86.3) scale(0.945 1)" font-family="'Liberation Sans', Arial, Helvetica, sans-serif" font-size="27" font-weight="normal" text-anchor="start" fill="#000">°</text>
<path d="M456.6 126.7h47.4" stroke="#ffa500" stroke-width="1.2" fill="none"/>
<text transform="translate(507.6 141.8) scale(0.945 1)" font-family="'Liberation Sans', Arial, Helvetica, sans-serif" font-size="29.8" font-weight="bold" text-anchor="start" fill="#000" stroke="#000" stroke-width="0.4" stroke-linejoin="round">h=150nm, swa=80</text>
<text transform="translate(746.8 131.4) scale(0.945 1)" font-family="'Liberation Sans', Arial, Helvetica, sans-serif" font-size="27" font-weight="normal" text-anchor="start" fill="#000">°</text>
<path d="M456.6 171.8h47.4" stroke="#ff0000" stroke-width="1.2" fill="none"/>
<text transform="translate(507.6 186.9) scale(0.945 1)" font-family="'Liberation Sans', Arial, Helvetica, sans-serif" font-size="29.8" font-weight="bold" text-anchor="start" fill="#000" stroke="#000" stroke-width="0.4" stroke-linejoin="round">h=225nm, swa=80</text>
<text transform="translate(746.8 176.5) scale(0.945 1)" font-family="'Liberation Sans', Arial, Helvetica, sans-serif" font-size="27" font-weight="normal" text-anchor="start" fill="#000">°</text>
<path d="M91.3 1133.15V663.35H1134.5V1133.15M147.6 1133.15H1078.3M149.26 1133.15v-10.4M149.26 663.35v10.4M265.17 1133.15v-10.4M265.17 663.35v10.4M381.08 1133.15v-10.4M381.08 663.35v10.4M496.99 1133.15v-10.4M496.99 663.35v10.4M612.9 1133.15v-10.4M612.9 663.35v10.4M728.81 1133.15v-10.4M728.81 663.35v10.4M844.72 1133.15v-10.4M844.72 663.35v10.4M960.63 1133.15v-10.4M960.63 663.35v10.4M1076.54 1133.15v-10.4M1076.54 663.35v10.4M91.3 1039.19h10.4M1134.5 1039.19h-10.4M91.3 945.23h10.4M1134.5 945.23h-10.4M91.3 851.27h10.4M1134.5 851.27h-10.4M91.3 757.31h10.4M1134.5 757.31h-10.4" fill="none" stroke="#262626" stroke-width="1.0" stroke-linecap="square"/>
<text transform="translate(150.06 1174.35) scale(0.925 1)" font-family="'Liberation Sans', Arial, Helvetica, sans-serif" font-size="33.9" font-weight="bold" text-anchor="middle" fill="#262626" stroke="#262626" stroke-width="0.4" stroke-linejoin="round">-0.4</text>
<text transform="translate(265.97 1174.35) scale(0.925 1)" font-family="'Liberation Sans', Arial, Helvetica, sans-serif" font-size="33.9" font-weight="bold" text-anchor="middle" fill="#262626" stroke="#262626" stroke-width="0.4" stroke-linejoin="round">-0.3</text>
<text transform="translate(381.88 1174.35) scale(0.925 1)" font-family="'Liberation Sans', Arial, Helvetica, sans-serif" font-size="33.9" font-weight="bold" text-anchor="middle" fill="#262626" stroke="#262626" stroke-width="0.4" stroke-linejoin="round">-0.2</text>
<text transform="translate(497.79 1174.35) scale(0.925 1)" font-family="'Liberation Sans', Arial, Helvetica, sans-serif" font-size="33.9" font-weight="bold" text-anchor="middle" fill="#262626" stroke="#262626" stroke-width="0.4" stroke-linejoin="round">-0.1</text>
<text transform="translate(613.5 1174.35) scale(0.925 1)" font-family="'Liberation Sans', Arial, Helvetica, sans-serif" font-size="33.9" font-weight="bold" text-anchor="middle" fill="#262626" stroke="#262626" stroke-width="0.4" stroke-linejoin="round">0</text>
<text transform="translate(729.41 1174.35) scale(0.925 1)" font-family="'Liberation Sans', Arial, Helvetica, sans-serif" font-size="33.9" font-weight="bold" text-anchor="middle" fill="#262626" stroke="#262626" stroke-width="0.4" stroke-linejoin="round">0.1</text>
<text transform="translate(845.32 1174.35) scale(0.925 1)" font-family="'Liberation Sans', Arial, Helvetica, sans-serif" font-size="33.9" font-weight="bold" text-anchor="middle" fill="#262626" stroke="#262626" stroke-width="0.4" stroke-linejoin="round">0.2</text>
<text transform="translate(961.23 1174.35) scale(0.925 1)" font-family="'Liberation Sans', Arial, Helvetica, sans-serif" font-size="33.9" font-weight="bold" text-anchor="middle" fill="#262626" stroke="#262626" stroke-width="0.4" stroke-linejoin="round">0.3</text>
<text transform="translate(1077.14 1174.35) scale(0.925 1)" font-family="'Liberation Sans', Arial, Helvetica, sans-serif" font-size="33.9" font-weight="bold" text-anchor="middle" fill="#262626" stroke="#262626" stroke-width="0.4" stroke-linejoin="round">0.4</text>
<text transform="translate(80.9 1145.05) scale(0.925 1)" font-family="'Liberation Sans', Arial, Helvetica, sans-serif" font-size="33.9" font-weight="bold" text-anchor="end" fill="#262626" stroke="#262626" stroke-width="0.4" stroke-linejoin="round">0</text>
<text transform="translate(80.9 1051.09) scale(0.925 1)" font-family="'Liberation Sans', Arial, Helvetica, sans-serif" font-size="33.9" font-weight="bold" text-anchor="end" fill="#262626" stroke="#262626" stroke-width="0.4" stroke-linejoin="round">0.2</text>
<text transform="translate(80.9 957.13) scale(0.925 1)" font-family="'Liberation Sans', Arial, Helvetica, sans-serif" font-size="33.9" font-weight="bold" text-anchor="end" fill="#262626" stroke="#262626" stroke-width="0.4" stroke-linejoin="round">0.4</text>
<text transform="translate(80.9 863.17) scale(0.925 1)" font-family="'Liberation Sans', Arial, Helvetica, sans-serif" font-size="33.9" font-weight="bold" text-anchor="end" fill="#262626" stroke="#262626" stroke-width="0.4" stroke-linejoin="round">0.6</text>
<text transform="translate(80.9 769.21) scale(0.925 1)" font-family="'Liberation Sans', Arial, Helvetica, sans-serif" font-size="33.9" font-weight="bold" text-anchor="end" fill="#262626" stroke="#262626" stroke-width="0.4" stroke-linejoin="round">0.8</text>
<text transform="translate(80.9 675.25) scale(0.925 1)" font-family="'Liberation Sans', Arial, Helvetica, sans-serif" font-size="33.9" font-weight="bold" text-anchor="end" fill="#262626" stroke="#262626" stroke-width="0.4" stroke-linejoin="round">1</text>
<g clip-path="url(#clipb)">
<path d="M150.2 682.9L150.89 681.01L151.51 679.12L152.09 677.21L152.66 675.31L153.27 673.42L153.97 671.55L154.79 669.71L155.78 667.91L156.99 666.17L158.41 664.67L160.02 663.68L161.8 663.47L163.59 664.06L165.22 665.28L166.6 666.83L167.72 668.51L168.65 670.29L169.44 672.13L170.15 674L170.83 675.89L171.49 677.78L172.13 679.68L172.76 681.58L173.38 683.49L173.98 685.4L174.56 687.31L175.13 689.23L175.69 691.15L176.23 693.07L176.75 695L177.27 696.93L177.76 698.87L178.25 700.8L178.72 702.75L179.18 704.69L179.62 706.64L180.05 708.59L180.47 710.55L180.88 712.51L181.27 714.47L181.65 716.43L182.02 718.4L182.38 720.37L182.73 722.34L183.07 724.31L183.4 726.29L183.72 728.26L184.04 730.24L184.35 732.22L184.65 734.2L184.95 736.18L185.25 738.16L185.55 740.15L185.84 742.13L186.13 744.11L186.42 746.09L186.7 748.07L186.99 750.05L187.29 752.03L187.58 754.01L187.88 755.98L188.17 757.96L188.48 759.93L188.78 761.91L189.09 763.88L189.39 765.85L189.71 767.82L190.02 769.79L190.33 771.76L190.65 773.72L190.97 775.69L191.3 777.66L191.62 779.62L191.95 781.59L192.28 783.55L192.61 785.52L192.95 787.48L193.29 789.45L193.63 791.41L193.97 793.38L194.31 795.34L194.66 797.31L195.01 799.27L195.36 801.23L195.71 803.2L196.07 805.16L196.43 807.13L196.79 809.1L197.15 811.06L197.52 813.03L197.88 815L198.25 816.96L198.63 818.93L199 820.9L199.38 822.87L199.76 824.83L200.14 826.8L200.52 828.77L200.91 830.74L201.3 832.7L201.69 834.67L202.09 836.63L202.49 838.6L202.89 840.57L203.29 842.53L203.7 844.49L204.11 846.46L204.52 848.42L204.93 850.38L205.35 852.34L205.77 854.3L206.2 856.26L206.63 858.22L207.06 860.18L207.49 862.13L207.93 864.09L208.37 866.04L208.81 867.99L209.26 869.94L209.71 871.89L210.16 873.84L210.62 875.78L211.08 877.72L211.55 879.67L212.01 881.61L212.49 883.55L212.96 885.48L213.44 887.42L213.92 889.35L214.41 891.28L214.9 893.21L215.4 895.14L215.91 897.06L216.42 898.99L216.93 900.91L217.45 902.83L217.98 904.75L218.52 906.67L219.07 908.59L219.62 910.51L220.19 912.43L220.76 914.35L221.34 916.26L221.93 918.18L222.53 920.09L223.15 922.01L223.77 923.92L224.41 925.84L225.05 927.76L225.72 929.67L226.4 931.57L227.1 933.47L227.84 935.35L228.6 937.22L229.4 939.06L230.24 940.88L231.12 942.67L232.05 944.43L233.03 946.15L234.07 947.84L235.16 949.48L236.32 951.07L237.55 952.62L238.85 954.11L240.22 955.54L241.68 956.91L243.22 958.21L244.84 959.42L246.55 960.49L248.34 961.37L250.21 962.02L252.15 962.42L254.15 962.62L256.18 962.65L258.22 962.58L260.25 962.45L262.26 962.28L264.25 962.12L266.24 961.97L268.22 961.86L270.2 961.83L272.19 961.89L274.17 962.06L276.16 962.36L278.14 962.78L280.08 963.33L281.99 963.98L283.84 964.74L285.63 965.61L287.37 966.56L289.05 967.6L290.68 968.72L292.27 969.91L293.81 971.17L295.32 972.48L296.79 973.83L298.23 975.23L299.65 976.66L301.05 978.11L302.43 979.58L303.8 981.06L305.15 982.55L306.49 984.05L307.82 985.55L309.15 987.05L310.46 988.56L311.77 990.08L313.08 991.59L314.38 993.11L315.68 994.62L316.99 996.14L318.29 997.65L319.59 999.16L320.9 1000.67L322.21 1002.17L323.53 1003.66L324.85 1005.14L326.19 1006.62L327.53 1008.09L328.89 1009.55L330.26 1010.99L331.64 1012.42L333.03 1013.84L334.45 1015.25L335.88 1016.64L337.33 1018.01L338.8 1019.36L340.29 1020.7L341.81 1022.01L343.35 1023.31L344.92 1024.58L346.51 1025.83L348.13 1027.06L349.78 1028.25L351.46 1029.41L353.16 1030.51L354.89 1031.55L356.65 1032.52L358.43 1033.4L360.23 1034.18L362.05 1034.86L363.89 1035.43L365.75 1035.91L367.63 1036.33L369.51 1036.73L371.41 1037.13L373.3 1037.56L375.2 1038.05L377.1 1038.59L379 1039.18L380.89 1039.82L382.77 1040.5L384.64 1041.22L386.5 1041.96L388.35 1042.73L390.19 1043.53L392.01 1044.34L393.81 1045.16L395.6 1046.01L397.39 1046.87L399.17 1047.74L400.94 1048.62L402.71 1049.52L404.49 1050.42L406.26 1051.34L408.04 1052.26L409.82 1053.19L411.61 1054.12L413.41 1055.04L415.21 1055.96L417.02 1056.87L418.83 1057.76L420.65 1058.63L422.48 1059.49L424.32 1060.31L426.16 1061.11L428.02 1061.88L429.88 1062.61L431.76 1063.29L433.65 1063.94L435.54 1064.54L437.45 1065.08L439.37 1065.58L441.3 1066.01L443.25 1066.38L445.21 1066.69L447.18 1066.93L449.16 1067.11L451.16 1067.25L453.16 1067.34L455.17 1067.39L457.18 1067.42L459.2 1067.43L461.22 1067.42L463.24 1067.41L465.27 1067.4L467.29 1067.4L469.31 1067.41L471.32 1067.44L473.33 1067.51L475.33 1067.61L477.32 1067.75L479.31 1067.95L481.28 1068.19L483.25 1068.47L485.2 1068.8L487.15 1069.17L489.09 1069.57L491.03 1070.01L492.96 1070.49L494.88 1070.99L496.79 1071.53L498.7 1072.09L500.61 1072.67L502.51 1073.27L504.41 1073.9L506.3 1074.54L508.2 1075.19L510.09 1075.86L511.97 1076.53L513.86 1077.22L515.74 1077.9L517.62 1078.59L519.51 1079.29L521.39 1079.97L523.27 1080.66L525.16 1081.34L527.05 1082L528.94 1082.66L530.83 1083.3L532.73 1083.93L534.63 1084.54L536.54 1085.12L538.45 1085.69L540.36 1086.22L542.29 1086.73L544.22 1087.21L546.16 1087.66L548.11 1088.07L550.06 1088.44L552.03 1088.78L554 1089.08L555.98 1089.35L557.97 1089.59L559.96 1089.81L561.96 1090.02L563.96 1090.21L565.96 1090.39L567.97 1090.56L569.97 1090.74L571.98 1090.92L573.98 1091.1L575.98 1091.3L577.98 1091.51L579.97 1091.74L581.96 1091.99L583.94 1092.27L585.91 1092.59L587.88 1092.94L589.83 1093.33L591.78 1093.77L593.72 1094.24L595.65 1094.76L597.57 1095.31L599.48 1095.89L601.39 1096.49L603.29 1097.12L605.19 1097.76L607.09 1098.41L608.98 1099.07L610.88 1099.74L612.77 1100.4L614.67 1101.06L616.57 1101.71L618.47 1102.35L620.37 1102.97L622.28 1103.56L624.2 1104.13L626.12 1104.68L628.05 1105.19L629.98 1105.68L631.92 1106.15L633.86 1106.6L635.81 1107.02L637.76 1107.42L639.72 1107.79L641.68 1108.15L643.64 1108.49L645.61 1108.81L647.58 1109.12L649.56 1109.4L651.54 1109.68L653.52 1109.93L655.5 1110.18L657.49 1110.41L659.47 1110.62L661.46 1110.83L663.45 1111.02L665.45 1111.21L667.44 1111.39L669.43 1111.56L671.43 1111.73L673.42 1111.9L675.41 1112.07L677.41 1112.25L679.4 1112.42L681.39 1112.61L683.38 1112.8L685.37 1113.01L687.36 1113.23L689.34 1113.46L691.33 1113.71L693.31 1113.98L695.28 1114.27L697.26 1114.59L699.23 1114.93L701.19 1115.28L703.16 1115.66L705.12 1116.05L707.08 1116.45L709.04 1116.86L711 1117.28L712.96 1117.71L714.91 1118.14L716.87 1118.57L718.83 1119L720.78 1119.43L722.74 1119.85L724.7 1120.27L726.66 1120.67L728.62 1121.06L730.58 1121.43L732.54 1121.79L734.51 1122.12L736.48 1122.44L738.45 1122.73L740.43 1122.99L742.4 1123.23L744.39 1123.44L746.37 1123.63L748.36 1123.8L750.35 1123.95L752.34 1124.08L754.33 1124.2L756.33 1124.3L758.32 1124.39L760.32 1124.47L762.32 1124.54L764.32 1124.61L766.32 1124.67L768.33 1124.72L770.33 1124.78L772.33 1124.84L774.33 1124.89L776.33 1124.95L778.33 1125.02L780.33 1125.1L782.33 1125.18L784.33 1125.26L786.33 1125.36L788.33 1125.45L790.33 1125.56L792.32 1125.67L794.32 1125.78L796.32 1125.9L798.31 1126.02L800.31 1126.15L802.3 1126.29L804.3 1126.42L806.29 1126.56L808.29 1126.7L810.28 1126.85L812.27 1127L814.27 1127.15L816.26 1127.3L818.25 1127.46L820.24 1127.62L822.24 1127.78L824.23 1127.94L826.22 1128.1L828.21 1128.26L830.21 1128.42L832.2 1128.59L834.19 1128.75L836.18 1128.91L838.17 1129.08L840.17 1129.24L842.16 1129.4L844.15 1129.56L846.14 1129.72L848.13 1129.88L850.13 1130.03L852.12 1130.18L854.11 1130.34L856.11 1130.48L858.1 1130.63L860.1 1130.77L862.09 1130.91L864.08 1131.05L866.08 1131.18L868.08 1131.3L870.07 1131.43L872.07 1131.55L874.06 1131.66L876.06 1131.77L878.06 1131.87L880.06 1131.97L882.06 1132.06L884.05 1132.14L886.05 1132.22L888.05 1132.29L890.05 1132.35L892.05 1132.4L894.05 1132.45L896.05 1132.49L898.05 1132.52L900.05 1132.54L902.05 1132.55L904.05 1132.55L906.05 1132.54L908.05 1132.51L910.05 1132.48L912.04 1132.44L914.04 1132.39L916.04 1132.32L918.04 1132.24L920.04 1132.15L922.03 1132.04L924.03 1131.93L926.02 1131.79L928.02 1131.65L930.01 1131.49L932.01 1131.32L934 1131.13L935.99 1130.93L937.99 1130.73L939.98 1130.52L941.97 1130.31L943.96 1130.09L945.95 1129.88L947.94 1129.68L949.93 1129.48L951.91 1129.3L953.9 1129.12L955.89 1128.96L957.88 1128.82L959.86 1128.69L961.85 1128.59L963.84 1128.52L965.82 1128.47L967.81 1128.45L969.79 1128.46L971.78 1128.5L973.76 1128.57L975.75 1128.65L977.73 1128.74L979.72 1128.82L981.71 1128.89L983.71 1128.94L985.71 1128.97L987.71 1128.95L989.71 1128.9L991.72 1128.78L993.74 1128.61L995.76 1128.36L997.79 1128.04L999.81 1127.64L1001.82 1127.15L1003.81 1126.58L1005.76 1125.93L1007.67 1125.2L1009.53 1124.38L1011.32 1123.47L1013.03 1122.48L1014.67 1121.4L1016.24 1120.24L1017.73 1119L1019.15 1117.69L1020.5 1116.32L1021.79 1114.87L1023.02 1113.37L1024.19 1111.81L1025.31 1110.2L1026.38 1108.54L1027.4 1106.84L1028.38 1105.1L1029.32 1103.33L1030.22 1101.52L1031.08 1099.69L1031.91 1097.84L1032.72 1095.97L1033.5 1094.08L1034.25 1092.19L1034.99 1090.29L1035.71 1088.4L1036.42 1086.49L1037.11 1084.59L1037.78 1082.69L1038.45 1080.78L1039.09 1078.87L1039.72 1076.96L1040.34 1075.05L1040.95 1073.13L1041.54 1071.22L1042.13 1069.3L1042.7 1067.38L1043.26 1065.46L1043.8 1063.54L1044.34 1061.62L1044.87 1059.69L1045.39 1057.77L1045.9 1055.84L1046.4 1053.91L1046.9 1051.98L1047.38 1050.05L1047.86 1048.12L1048.34 1046.19L1048.8 1044.25L1049.27 1042.32L1049.72 1040.38L1050.17 1038.44L1050.62 1036.5L1051.06 1034.56L1051.5 1032.62L1051.94 1030.68L1052.37 1028.74L1052.8 1026.79L1053.23 1024.85L1053.66 1022.9L1054.09 1020.96L1054.51 1019.01L1054.94 1017.06L1055.37 1015.11L1055.8 1013.17L1056.23 1011.22L1056.66 1009.26L1057.09 1007.31L1057.53 1005.36L1057.97 1003.41L1058.41 1001.46L1058.86 999.5L1059.31 997.55L1059.77 995.6L1060.23 993.64L1060.7 991.69L1061.17 989.74L1061.65 987.78L1062.14 985.83L1062.63 983.88L1063.13 981.93L1063.63 979.99L1064.14 978.04L1064.66 976.1L1065.19 974.16L1065.72 972.23L1066.26 970.29L1066.81 968.37L1067.37 966.44L1067.94 964.52L1068.51 962.6L1069.09 960.69L1069.69 958.78L1070.29 956.88L1070.91 954.98L1071.53 953.09L1072.16 951.21L1072.81 949.33L1073.46 947.46L1074.13 945.59L1074.8 943.73L1075.49 941.88L1076.1 941.1" fill="none" stroke="#00ab00" stroke-width="1.1" stroke-linejoin="round"/>
<path d="M150.04 698.6L150.2 665.4L151.52 663.95L153.53 663.35L155.43 663.61L157.01 664.72L158.32 666.28L159.4 667.99L160.32 669.76L161.09 671.6L161.76 673.48L162.36 675.39L162.94 677.3L163.52 679.22L164.08 681.14L164.65 683.07L165.2 684.99L165.75 686.92L166.29 688.85L166.83 690.78L167.35 692.71L167.87 694.64L168.38 696.58L168.88 698.52L169.37 700.45L169.85 702.39L170.33 704.34L170.79 706.28L171.25 708.22L171.71 710.17L172.15 712.12L172.59 714.07L173.02 716.02L173.45 717.97L173.86 719.92L174.27 721.88L174.68 723.83L175.08 725.79L175.47 727.75L175.86 729.71L176.24 731.67L176.61 733.63L176.98 735.59L177.35 737.56L177.71 739.52L178.06 741.49L178.41 743.45L178.76 745.42L179.1 747.39L179.44 749.36L179.77 751.33L180.1 753.3L180.42 755.27L180.74 757.24L181.06 759.22L181.37 761.19L181.69 763.17L181.99 765.14L182.3 767.12L182.6 769.1L182.9 771.07L183.2 773.05L183.5 775.03L183.79 777.01L184.08 778.99L184.37 780.97L184.66 782.94L184.95 784.92L185.23 786.91L185.52 788.89L185.8 790.87L186.08 792.85L186.36 794.83L186.64 796.81L186.93 798.79L187.21 800.77L187.49 802.76L187.77 804.74L188.05 806.72L188.33 808.7L188.62 810.68L188.9 812.67L189.18 814.65L189.47 816.63L189.76 818.61L190.04 820.59L190.33 822.57L190.63 824.55L190.92 826.53L191.22 828.51L191.51 830.49L191.81 832.47L192.12 834.45L192.42 836.43L192.73 838.41L193.04 840.38L193.35 842.36L193.67 844.34L193.99 846.31L194.31 848.29L194.64 850.26L194.96 852.24L195.3 854.21L195.63 856.19L195.97 858.16L196.31 860.13L196.65 862.1L196.99 864.07L197.34 866.04L197.7 868.01L198.05 869.98L198.41 871.95L198.77 873.92L199.14 875.88L199.51 877.85L199.88 879.82L200.25 881.78L200.63 883.74L201.01 885.71L201.4 887.67L201.79 889.63L202.18 891.59L202.58 893.55L202.98 895.51L203.38 897.47L203.79 899.43L204.2 901.38L204.61 903.34L205.03 905.3L205.45 907.25L205.88 909.2L206.31 911.15L206.74 913.11L207.18 915.06L207.62 917.01L208.07 918.95L208.52 920.9L208.97 922.85L209.43 924.79L209.89 926.74L210.36 928.68L210.83 930.62L211.3 932.56L211.78 934.5L212.27 936.44L212.75 938.38L213.24 940.32L213.74 942.25L214.24 944.19L214.75 946.12L215.25 948.05L215.77 949.98L216.29 951.91L216.81 953.84L217.35 955.76L217.89 957.69L218.45 959.61L219.01 961.52L219.6 963.43L220.2 965.34L220.82 967.24L221.47 969.13L222.13 971.02L222.82 972.9L223.54 974.78L224.28 976.65L225.05 978.5L225.86 980.35L226.7 982.19L227.57 984.02L228.49 985.83L229.46 987.6L230.48 989.33L231.57 991L232.73 992.61L233.97 994.14L235.29 995.58L236.71 996.92L238.22 998.15L239.85 999.26L241.58 1000.24L243.41 1001.09L245.32 1001.8L247.28 1002.37L249.28 1002.81L251.3 1003.11L253.32 1003.27L255.32 1003.3L257.31 1003.25L259.29 1003.17L261.27 1003.11L263.26 1003.12L265.24 1003.22L267.23 1003.41L269.21 1003.7L271.18 1004.09L273.12 1004.56L275.05 1005.13L276.95 1005.78L278.81 1006.52L280.63 1007.35L282.41 1008.26L284.13 1009.25L285.81 1010.31L287.45 1011.44L289.05 1012.64L290.61 1013.89L292.13 1015.19L293.63 1016.53L295.1 1017.91L296.54 1019.32L297.96 1020.75L299.37 1022.19L300.76 1023.65L302.13 1025.11L303.5 1026.57L304.86 1028.03L306.22 1029.49L307.57 1030.95L308.92 1032.41L310.26 1033.86L311.61 1035.32L312.96 1036.77L314.32 1038.22L315.68 1039.66L317.05 1041.1L318.42 1042.54L319.81 1043.98L321.21 1045.41L322.63 1046.84L324.06 1048.26L325.51 1049.67L326.97 1051.06L328.45 1052.43L329.95 1053.79L331.48 1055.11L333.02 1056.41L334.58 1057.68L336.16 1058.91L337.77 1060.1L339.41 1061.25L341.06 1062.36L342.75 1063.41L344.46 1064.41L346.2 1065.35L347.96 1066.24L349.75 1067.07L351.57 1067.86L353.41 1068.6L355.26 1069.31L357.14 1069.97L359.03 1070.61L360.93 1071.21L362.84 1071.8L364.77 1072.37L366.7 1072.92L368.63 1073.46L370.57 1073.99L372.52 1074.53L374.46 1075.06L376.39 1075.61L378.33 1076.16L380.26 1076.73L382.17 1077.32L384.08 1077.93L385.98 1078.56L387.87 1079.21L389.76 1079.87L391.64 1080.55L393.51 1081.24L395.38 1081.94L397.25 1082.64L399.11 1083.36L400.97 1084.08L402.83 1084.8L404.69 1085.52L406.55 1086.24L408.42 1086.96L410.28 1087.68L412.15 1088.39L414.02 1089.09L415.9 1089.78L417.78 1090.46L419.67 1091.12L421.56 1091.77L423.46 1092.39L425.36 1093L427.27 1093.58L429.19 1094.13L431.11 1094.65L433.04 1095.15L434.98 1095.6L436.93 1096.02L438.88 1096.41L440.84 1096.75L442.8 1097.05L444.78 1097.3L446.76 1097.5L448.75 1097.66L450.75 1097.79L452.75 1097.89L454.75 1097.96L456.76 1098.01L458.77 1098.04L460.79 1098.07L462.8 1098.09L464.82 1098.11L466.83 1098.13L468.85 1098.16L470.86 1098.21L472.86 1098.29L474.86 1098.38L476.86 1098.51L478.85 1098.67L480.84 1098.88L482.82 1099.13L484.78 1099.43L486.74 1099.79L488.69 1100.21L490.64 1100.66L492.57 1101.16L494.5 1101.7L496.43 1102.27L498.35 1102.86L500.26 1103.47L502.18 1104.1L504.09 1104.74L506 1105.38L507.92 1106.01L509.83 1106.65L511.75 1107.26L513.67 1107.86L515.59 1108.44L517.52 1108.99L519.45 1109.5L521.39 1109.98L523.33 1110.44L525.28 1110.86L527.23 1111.26L529.19 1111.63L531.15 1111.97L533.12 1112.29L535.09 1112.6L537.06 1112.88L539.03 1113.14L541.01 1113.39L542.99 1113.62L544.98 1113.84L546.96 1114.05L548.95 1114.24L550.94 1114.43L552.93 1114.61L554.92 1114.78L556.91 1114.95L558.91 1115.12L560.9 1115.28L562.89 1115.45L564.89 1115.61L566.88 1115.78L568.88 1115.96L570.87 1116.14L572.86 1116.33L574.85 1116.52L576.84 1116.73L578.83 1116.96L580.82 1117.19L582.8 1117.44L584.78 1117.71L586.76 1117.99L588.74 1118.29L590.72 1118.59L592.69 1118.91L594.66 1119.23L596.64 1119.56L598.61 1119.9L600.58 1120.24L602.55 1120.59L604.52 1120.93L606.49 1121.28L608.46 1121.62L610.43 1121.96L612.4 1122.29L614.37 1122.62L616.35 1122.94L618.32 1123.25L620.3 1123.55L622.27 1123.84L624.25 1124.11L626.23 1124.37L628.21 1124.61L630.19 1124.85L632.18 1125.07L634.16 1125.28L636.15 1125.48L638.14 1125.67L640.13 1125.85L642.12 1126.02L644.11 1126.18L646.1 1126.34L648.09 1126.49L650.09 1126.64L652.08 1126.78L654.08 1126.92L656.07 1127.05L658.07 1127.18L660.06 1127.31L662.06 1127.43L664.06 1127.56L666.05 1127.68L668.05 1127.81L670.04 1127.93L672.04 1128.05L674.04 1128.17L676.03 1128.3L678.03 1128.42L680.03 1128.54L682.02 1128.66L684.02 1128.77L686.02 1128.89L688.02 1129.01L690.01 1129.12L692.01 1129.24L694.01 1129.35L696.01 1129.46L698 1129.57L700 1129.68L702 1129.79L704 1129.9L705.99 1130L707.99 1130.11L709.99 1130.21L711.99 1130.31L713.98 1130.41L715.98 1130.51L717.98 1130.6L719.98 1130.7L721.98 1130.79L723.97 1130.88L725.97 1130.97L727.97 1131.06L729.97 1131.14L731.97 1131.23L733.97 1131.31L735.96 1131.39L737.96 1131.47L739.96 1131.54L741.96 1131.61L743.96 1131.68L745.96 1131.75L747.95 1131.82L749.95 1131.88L751.95 1131.95L753.95 1132L755.95 1132.06L757.95 1132.12L759.94 1132.17L761.94 1132.22L763.94 1132.26L765.94 1132.31L767.94 1132.35L769.94 1132.38L771.93 1132.42L773.93 1132.45L775.93 1132.48L777.93 1132.51L779.93 1132.53L781.93 1132.55L783.92 1132.57L785.92 1132.58L787.92 1132.6L789.92 1132.6L791.92 1132.61L793.91 1132.61L795.91 1132.61L797.91 1132.6L799.91 1132.59L801.91 1132.58L803.91 1132.57L805.9 1132.55L807.9 1132.52L809.9 1132.5L811.9 1132.47L813.9 1132.43L815.89 1132.4L817.89 1132.36L819.89 1132.31L821.89 1132.26L823.89 1132.21L825.88 1132.16L827.88 1132.1L829.88 1132.03L831.88 1131.97L833.88 1131.9L835.88 1131.82L837.88 1131.74L839.87 1131.66L841.87 1131.57L843.87 1131.48L845.87 1131.38L847.87 1131.28L849.87 1131.18L851.87 1131.07L853.87 1130.96L855.87 1130.84L857.87 1130.72L859.87 1130.6L861.87 1130.47L863.87 1130.34L865.87 1130.2L867.87 1130.05L869.87 1129.91L871.87 1129.75L873.87 1129.6L875.87 1129.44L877.87 1129.27L879.87 1129.1L881.87 1128.92L883.87 1128.73L885.86 1128.53L887.86 1128.32L889.85 1128.09L891.83 1127.86L893.82 1127.6L895.8 1127.33L897.78 1127.05L899.75 1126.74L901.71 1126.41L903.67 1126.06L905.63 1125.69L907.58 1125.29L909.52 1124.87L911.45 1124.42L913.38 1123.94L915.29 1123.43L917.2 1122.89L919.1 1122.32L920.99 1121.72L922.87 1121.08L924.74 1120.42L926.61 1119.73L928.47 1119.04L930.33 1118.33L932.19 1117.62L934.05 1116.92L935.92 1116.23L937.79 1115.55L939.67 1114.9L941.55 1114.28L943.45 1113.69L945.36 1113.15L947.28 1112.66L949.22 1112.22L951.18 1111.84L953.16 1111.53L955.16 1111.29L957.19 1111.13L959.24 1111.06L961.31 1111.06L963.39 1111.13L965.49 1111.24L967.6 1111.38L969.71 1111.54L971.81 1111.71L973.91 1111.87L976 1112L978.06 1112.1L980.11 1112.14L982.12 1112.12L984.11 1112.02L986.05 1111.82L987.95 1111.52L989.81 1111.09L991.61 1110.54L993.37 1109.86L995.08 1109.07L996.74 1108.17L998.35 1107.17L999.91 1106.08L1001.44 1104.89L1002.91 1103.63L1004.35 1102.28L1005.74 1100.87L1007.08 1099.4L1008.39 1097.86L1009.66 1096.28L1010.88 1094.66L1012.07 1092.99L1013.22 1091.3L1014.33 1089.58L1015.41 1087.85L1016.45 1086.1L1017.46 1084.34L1018.43 1082.56L1019.37 1080.78L1020.28 1078.98L1021.16 1077.18L1022.01 1075.36L1022.83 1073.53L1023.62 1071.69L1024.39 1069.85L1025.13 1067.99L1025.85 1066.13L1026.54 1064.25L1027.22 1062.37L1027.87 1060.48L1028.5 1058.59L1029.11 1056.69L1029.71 1054.78L1030.28 1052.87L1030.84 1050.95L1031.39 1049.02L1031.92 1047.09L1032.44 1045.16L1032.95 1043.22L1033.44 1041.28L1033.93 1039.34L1034.41 1037.39L1034.88 1035.44L1035.34 1033.49L1035.8 1031.54L1036.25 1029.59L1036.7 1027.64L1037.15 1025.68L1037.59 1023.73L1038.04 1021.78L1038.48 1019.82L1038.93 1017.87L1039.37 1015.92L1039.81 1013.97L1040.26 1012.02L1040.7 1010.07L1041.14 1008.12L1041.59 1006.17L1042.03 1004.22L1042.47 1002.28L1042.91 1000.33L1043.35 998.38L1043.79 996.43L1044.23 994.48L1044.67 992.54L1045.11 990.59L1045.55 988.64L1045.99 986.7L1046.43 984.75L1046.86 982.8L1047.3 980.85L1047.73 978.91L1048.17 976.96L1048.6 975.01L1049.03 973.06L1049.46 971.11L1049.89 969.16L1050.32 967.21L1050.75 965.26L1051.18 963.31L1051.61 961.36L1052.03 959.41L1052.45 957.45L1052.88 955.5L1053.3 953.54L1053.72 951.59L1054.14 949.63L1054.55 947.68L1054.97 945.72L1055.38 943.76L1055.8 941.8L1056.21 939.84L1056.62 937.87L1057.03 935.91L1057.44 933.95L1057.84 931.98L1058.24 930.01L1058.65 928.04L1059.05 926.08L1059.46 924.11L1059.88 922.14L1060.31 920.18L1060.74 918.22L1061.19 916.27L1061.65 914.32L1062.13 912.38L1062.63 910.44L1063.15 908.51L1063.69 906.59L1064.26 904.68L1064.85 902.78L1065.48 900.89L1066.14 899.01L1066.83 897.15L1067.55 895.3L1068.32 893.46L1069.12 891.64L1069.97 889.84L1070.86 888.05L1071.8 886.28L1072.79 884.53L1073.82 882.8L1074.91 881.09L1076.1 879.5" fill="none" stroke="#ffa500" stroke-width="1.1" stroke-linejoin="round"/>
<path d="M91.3 1133.15L147.9 1133.15L150.2 698.6L150.48 700.58L150.79 702.56L151.09 704.53L151.4 706.51L151.71 708.49L152.01 710.46L152.32 712.44L152.62 714.42L152.91 716.39L153.2 718.37L153.49 720.35L153.77 722.33L154.04 724.31L154.3 726.29L154.55 728.27L154.8 730.26L155.04 732.24L155.27 734.23L155.5 736.21L155.73 738.2L155.94 740.18L156.16 742.17L156.37 744.16L156.57 746.15L156.77 748.14L156.97 750.13L157.17 752.12L157.37 754.11L157.56 756.1L157.75 758.09L157.95 760.08L158.14 762.07L158.33 764.06L158.52 766.05L158.72 768.04L158.91 770.04L159.11 772.03L159.31 774.02L159.52 776.01L159.72 777.99L159.93 779.98L160.15 781.97L160.36 783.96L160.58 785.95L160.8 787.94L161.02 789.92L161.24 791.91L161.47 793.9L161.7 795.89L161.93 797.87L162.16 799.86L162.39 801.85L162.63 803.83L162.86 805.82L163.1 807.8L163.34 809.79L163.58 811.77L163.83 813.76L164.07 815.75L164.31 817.73L164.56 819.72L164.8 821.7L165.05 823.69L165.3 825.67L165.54 827.65L165.79 829.64L166.04 831.62L166.29 833.61L166.54 835.59L166.79 837.58L167.04 839.56L167.28 841.55L167.53 843.53L167.78 845.52L168.03 847.5L168.28 849.49L168.52 851.47L168.77 853.46L169.02 855.44L169.26 857.42L169.5 859.41L169.75 861.4L169.99 863.38L170.23 865.37L170.47 867.35L170.7 869.34L170.94 871.32L171.18 873.31L171.41 875.3L171.65 877.28L171.88 879.27L172.11 881.25L172.34 883.24L172.57 885.23L172.8 887.21L173.03 889.2L173.26 891.19L173.49 893.17L173.72 895.16L173.95 897.15L174.18 899.13L174.41 901.12L174.64 903.11L174.87 905.09L175.09 907.08L175.32 909.07L175.55 911.05L175.78 913.04L176.01 915.03L176.24 917.01L176.47 919L176.7 920.99L176.93 922.97L177.16 924.96L177.39 926.95L177.62 928.93L177.86 930.92L178.09 932.9L178.32 934.89L178.56 936.88L178.8 938.86L179.03 940.85L179.27 942.83L179.51 944.82L179.75 946.8L179.99 948.79L180.24 950.77L180.48 952.76L180.73 954.74L180.98 956.73L181.22 958.71L181.48 960.7L181.73 962.68L181.98 964.67L182.24 966.65L182.49 968.63L182.75 970.62L183.02 972.6L183.28 974.58L183.54 976.56L183.81 978.55L184.08 980.53L184.35 982.51L184.63 984.49L184.9 986.47L185.18 988.45L185.46 990.43L185.75 992.42L186.04 994.4L186.32 996.38L186.62 998.35L186.91 1000.33L187.21 1002.31L187.51 1004.29L187.81 1006.27L188.12 1008.25L188.44 1010.22L188.76 1012.2L189.08 1014.17L189.41 1016.14L189.75 1018.12L190.09 1020.09L190.44 1022.06L190.79 1024.02L191.15 1025.99L191.52 1027.96L191.9 1029.92L192.29 1031.88L192.68 1033.84L193.09 1035.79L193.5 1037.75L193.92 1039.7L194.36 1041.65L194.8 1043.6L195.26 1045.54L195.72 1047.49L196.2 1049.43L196.69 1051.36L197.19 1053.3L197.7 1055.23L198.23 1057.15L198.77 1059.08L199.32 1061L199.89 1062.92L200.47 1064.83L201.06 1066.74L201.67 1068.65L202.3 1070.55L202.94 1072.45L203.6 1074.34L204.27 1076.24L204.97 1078.12L205.68 1080L206.42 1081.86L207.2 1083.71L208.01 1085.54L208.86 1087.34L209.76 1089.12L210.71 1090.87L211.71 1092.58L212.77 1094.26L213.9 1095.9L215.1 1097.5L216.36 1099.04L217.69 1100.53L219.09 1101.96L220.55 1103.32L222.07 1104.6L223.65 1105.81L225.28 1106.93L226.97 1107.95L228.71 1108.87L230.49 1109.69L232.33 1110.4L234.2 1110.98L236.12 1111.44L238.08 1111.78L240.07 1112.02L242.08 1112.18L244.11 1112.27L246.16 1112.31L248.22 1112.33L250.28 1112.34L252.34 1112.35L254.39 1112.39L256.42 1112.48L258.43 1112.63L260.42 1112.86L262.38 1113.18L264.31 1113.59L266.22 1114.07L268.11 1114.61L269.99 1115.22L271.85 1115.87L273.71 1116.55L275.56 1117.27L277.42 1118.01L279.27 1118.76L281.12 1119.52L282.98 1120.29L284.83 1121.07L286.69 1121.85L288.55 1122.63L290.42 1123.4L292.28 1124.16L294.15 1124.91L296.03 1125.64L297.91 1126.35L299.8 1127.04L301.69 1127.7L303.59 1128.33L305.49 1128.92L307.4 1129.48L309.32 1129.99L311.25 1130.47L313.18 1130.9L315.13 1131.29L317.07 1131.64L319.03 1131.96L320.99 1132.24L322.96 1132.49L324.93 1132.71L326.91 1132.89L328.89 1133.05L330.88 1133.15L332.87 1133.15L334.86 1133.15L336.86 1133.15L338.86 1133.15L340.86 1133.15L342.87 1133.15L344.88 1133.15L346.89 1133.15L348.9 1133.15L350.91 1133.15L352.92 1133.15L354.94 1133.15L356.95 1133.07L358.96 1132.98L360.98 1132.89L362.99 1132.79L365 1132.69L367.01 1132.59L369.02 1132.49L371.02 1132.4L373.03 1132.3L375.03 1132.2L377.03 1132.11L379.03 1132.01L381.03 1131.91L383.03 1131.82L385.03 1131.72L387.03 1131.62L389.02 1131.53L391.02 1131.43L393.01 1131.33L395.01 1131.23L397 1131.13L398.99 1131.03L400.99 1130.93L402.98 1130.83L404.97 1130.73L406.96 1130.63L408.95 1130.52L410.94 1130.42L412.93 1130.31L414.92 1130.2L416.91 1130.09L418.91 1129.98L420.9 1129.87L422.89 1129.76L424.88 1129.64L426.87 1129.52L428.86 1129.4L430.86 1129.28L432.85 1129.16L434.84 1129.03L436.84 1128.9L438.83 1128.77L440.83 1128.63L442.82 1128.5L444.82 1128.36L446.81 1128.21L448.81 1128.06L450.8 1127.91L452.8 1127.76L454.79 1127.6L456.78 1127.43L458.78 1127.27L460.77 1127.09L462.76 1126.92L464.76 1126.73L466.75 1126.55L468.74 1126.35L470.73 1126.16L472.72 1125.95L474.71 1125.74L476.7 1125.53L478.69 1125.31L480.68 1125.08L482.67 1124.85L484.65 1124.61L486.64 1124.36L488.62 1124.11L490.6 1123.85L492.59 1123.58L494.57 1123.31L496.55 1123.02L498.52 1122.73L500.5 1122.43L502.48 1122.13L504.45 1121.82L506.42 1121.5L508.4 1121.18L510.37 1120.85L512.34 1120.51L514.31 1120.17L516.28 1119.83L518.25 1119.48L520.21 1119.13L522.18 1118.78L524.15 1118.43L526.12 1118.07L528.08 1117.71L530.05 1117.35L532.02 1116.99L533.98 1116.63L535.95 1116.27L537.92 1115.91L539.88 1115.56L541.85 1115.2L543.82 1114.85L545.78 1114.5L547.75 1114.15L549.72 1113.8L551.69 1113.46L553.66 1113.12L555.63 1112.79L557.6 1112.45L559.58 1112.12L561.55 1111.79L563.52 1111.45L565.49 1111.12L567.46 1110.78L569.43 1110.44L571.39 1110.1L573.36 1109.75L575.33 1109.4L577.29 1109.05L579.26 1108.69L581.22 1108.32L583.18 1107.94L585.14 1107.56L587.1 1107.16L589.05 1106.76L591 1106.34L592.95 1105.92L594.9 1105.48L596.85 1105.03L598.79 1104.57L600.73 1104.1L602.66 1103.6L604.6 1103.1L606.53 1102.58L608.46 1102.06L610.38 1101.52L612.31 1100.98L614.23 1100.43L616.15 1099.89L618.08 1099.34L620 1098.79L621.93 1098.24L623.85 1097.7L625.78 1097.17L627.71 1096.64L629.64 1096.13L631.58 1095.63L633.51 1095.14L635.45 1094.67L637.4 1094.22L639.35 1093.79L641.3 1093.38L643.26 1092.99L645.23 1092.63L647.2 1092.3L649.18 1091.99L651.16 1091.71L653.15 1091.45L655.14 1091.21L657.14 1090.98L659.13 1090.77L661.13 1090.56L663.13 1090.35L665.13 1090.15L667.12 1089.94L669.12 1089.72L671.11 1089.49L673.1 1089.24L675.08 1088.98L677.06 1088.7L679.03 1088.38L680.99 1088.04L682.95 1087.67L684.9 1087.26L686.84 1086.81L688.76 1086.32L690.68 1085.79L692.6 1085.22L694.5 1084.63L696.41 1084.02L698.31 1083.38L700.2 1082.73L702.1 1082.06L704 1081.38L705.9 1080.7L707.8 1080.01L709.7 1079.33L711.61 1078.65L713.53 1077.99L715.45 1077.34L717.37 1076.72L719.3 1076.12L721.24 1075.56L723.18 1075.05L725.12 1074.58L727.07 1074.16L729.03 1073.81L730.98 1073.51L732.95 1073.28L734.91 1073.1L736.88 1072.97L738.86 1072.87L740.84 1072.8L742.82 1072.76L744.81 1072.74L746.8 1072.72L748.8 1072.71L750.8 1072.69L752.8 1072.67L754.81 1072.65L756.82 1072.61L758.83 1072.57L760.85 1072.51L762.86 1072.44L764.87 1072.36L766.88 1072.26L768.89 1072.15L770.9 1072.01L772.9 1071.86L774.9 1071.68L776.9 1071.48L778.89 1071.26L780.87 1071.01L782.85 1070.73L784.82 1070.43L786.78 1070.09L788.74 1069.72L790.68 1069.32L792.61 1068.88L794.54 1068.41L796.45 1067.9L798.35 1067.35L800.24 1066.76L802.12 1066.13L803.99 1065.48L805.85 1064.79L807.7 1064.08L809.55 1063.35L811.4 1062.61L813.24 1061.84L815.08 1061.07L816.92 1060.29L818.76 1059.5L820.6 1058.72L822.44 1057.93L824.29 1057.15L826.14 1056.38L828 1055.63L829.87 1054.89L831.75 1054.17L833.64 1053.47L835.53 1052.79L837.45 1052.15L839.37 1051.54L841.3 1050.95L843.24 1050.38L845.19 1049.83L847.14 1049.29L849.09 1048.76L851.05 1048.23L853 1047.71L854.95 1047.19L856.89 1046.66L858.83 1046.12L860.76 1045.56L862.68 1044.99L864.58 1044.4L866.47 1043.79L868.34 1043.15L870.2 1042.47L872.03 1041.76L873.84 1041.01L875.63 1040.21L877.39 1039.37L879.12 1038.48L880.83 1037.53L882.5 1036.52L884.13 1035.45L885.74 1034.32L887.31 1033.14L888.85 1031.89L890.37 1030.6L891.85 1029.26L893.32 1027.88L894.75 1026.46L896.17 1025.01L897.56 1023.52L898.94 1022.01L900.3 1020.47L901.65 1018.92L902.98 1017.34L904.29 1015.76L905.6 1014.17L906.9 1012.57L908.19 1010.97L909.48 1009.38L910.76 1007.79L912.04 1006.21L913.32 1004.65L914.6 1003.11L915.89 1001.59L917.17 1000.09L918.47 998.62L919.78 997.18L921.12 995.77L922.47 994.38L923.85 993.02L925.27 991.69L926.73 990.39L928.23 989.12L929.77 987.87L931.37 986.66L933.03 985.5L934.74 984.4L936.5 983.39L938.31 982.5L940.17 981.74L942.08 981.14L944.04 980.72L946.05 980.48L948.08 980.41L950.11 980.49L952.13 980.7L954.13 981.03L956.09 981.45L958 981.93L959.9 982.45L961.79 982.96L963.7 983.42L965.64 983.8L967.62 984.07L969.66 984.18L971.73 984.15L973.8 983.95L975.84 983.58L977.82 983.05L979.71 982.35L981.49 981.47L983.12 980.42L984.6 979.19L985.94 977.81L987.17 976.3L988.28 974.69L989.31 972.98L990.27 971.22L991.18 969.41L992.06 967.58L992.9 965.74L993.73 963.9L994.53 962.05L995.32 960.19L996.08 958.33L996.82 956.46L997.54 954.58L998.25 952.71L998.93 950.82L999.6 948.93L1000.24 947.04L1000.87 945.14L1001.49 943.24L1002.09 941.33L1002.67 939.42L1003.24 937.5L1003.79 935.58L1004.33 933.66L1004.86 931.74L1005.37 929.81L1005.87 927.87L1006.36 925.94L1006.84 924L1007.31 922.06L1007.77 920.11L1008.21 918.16L1008.65 916.21L1009.09 914.26L1009.51 912.31L1009.92 910.35L1010.33 908.4L1010.74 906.44L1011.13 904.48L1011.53 902.52L1011.91 900.56L1012.3 898.59L1012.68 896.63L1013.05 894.67L1013.43 892.7L1013.8 890.73L1014.17 888.77L1014.53 886.8L1014.89 884.83L1015.25 882.87L1015.61 880.9L1015.96 878.93L1016.31 876.96L1016.66 874.99L1017.01 873.02L1017.35 871.05L1017.7 869.08L1018.04 867.11L1018.37 865.13L1018.71 863.16L1019.04 861.19L1019.37 859.22L1019.7 857.24L1020.03 855.27L1020.36 853.29L1020.68 851.32L1021.01 849.35L1021.33 847.37L1021.65 845.39L1021.97 843.42L1022.28 841.44L1022.6 839.47L1022.92 837.49L1023.23 835.51L1023.54 833.54L1023.85 831.56L1024.17 829.58L1024.48 827.61L1024.79 825.63L1025.09 823.65L1025.4 821.67L1025.71 819.7L1026.02 817.72L1026.32 815.74L1026.63 813.76L1026.94 811.79L1027.24 809.81L1027.55 807.83L1027.85 805.85L1028.16 803.88L1028.47 801.9L1028.77 799.92L1029.08 797.94L1029.38 795.97L1029.69 793.99L1030 792.01L1030.31 790.03L1030.61 788.06L1030.92 786.08L1031.23 784.1L1031.54 782.13L1031.85 780.15L1032.17 778.18L1032.48 776.2L1032.79 774.22L1033.11 772.25L1033.43 770.27L1033.74 768.3L1034.06 766.33L1034.38 764.35L1034.7 762.38L1035.03 760.4L1035.35 758.43L1035.68 756.46L1036.01 754.49L1036.34 752.52L1036.67 750.54L1037 748.57L1037.34 746.6L1037.67 744.63L1038.01 742.66L1038.36 740.69L1038.7 738.73L1039.05 736.76L1039.4 734.79L1039.75 732.82L1040.1 730.86L1040.46 728.89L1040.82 726.93L1041.18 724.96L1041.54 723L1041.91 721.04L1042.28 719.07L1042.66 717.11L1043.04 715.15L1043.42 713.19L1043.81 711.23L1044.2 709.27L1044.6 707.31L1045.01 705.36L1045.43 703.4L1045.85 701.44L1046.28 699.49L1046.71 697.53L1047.16 695.58L1047.61 693.62L1048.08 691.67L1048.56 689.72L1049.05 687.78L1049.55 685.84L1050.07 683.91L1050.61 681.98L1051.17 680.07L1051.75 678.17L1052.36 676.29L1053 674.41L1053.68 672.55L1054.43 670.69L1055.25 668.84L1056.16 666.98L1057.22 665.19L1058.69 663.86L1060.59 663.41L1062.27 664.01L1063.64 665.39L1064.79 667.16L1065.78 669.01L1066.64 670.86L1067.4 672.71L1068.08 674.58L1068.7 676.45L1069.29 678.34L1069.85 680.24L1070.4 682.15L1070.94 684.07L1071.45 686L1071.96 687.94L1072.44 689.89L1072.92 691.84L1073.38 693.8L1073.83 695.76L1074.26 697.72L1074.68 699.68L1075.09 701.63L1075.49 703.59L1075.88 705.53L1076.1 706.5L1078.4 1133.15L1134.5 1133.15" fill="none" stroke="#ff0000" stroke-width="1.1" stroke-linejoin="round"/>
</g>
<text transform="translate(24.8 899.85) rotate(-90) scale(0.945 1)" font-family="'Liberation Sans', Arial, Helvetica, sans-serif" font-size="36" font-weight="bold" text-anchor="middle" fill="#262626" stroke="#262626" stroke-width="0.4" stroke-linejoin="round">Norm. Intensity</text>
<text transform="translate(614.9 649.7) scale(0.846 1)" font-family="'Liberation Sans', Arial, Helvetica, sans-serif" font-size="32.3" font-weight="bold" text-anchor="middle" fill="#000" stroke="#000" stroke-width="0.4" stroke-linejoin="round">TE</text>
<text transform="translate(597 1207.6) scale(1.11 1)" font-family="'Liberation Serif', 'Times New Roman', serif" font-size="34.2" font-weight="bold" font-style="italic" text-anchor="start" fill="#000">k</text>
<text transform="translate(615.9 1213.5) scale(1.04 1)" font-family="'Liberation Serif', 'Times New Roman', serif" font-size="26.7" font-weight="bold" font-style="italic" text-anchor="start" fill="#000">x</text>
<text transform="translate(9 1215)" font-family="'Liberation Serif', 'Times New Roman', serif" font-size="32" font-weight="bold" text-anchor="start" fill="#000">(b)</text>
<rect x="467" y="690.6" width="311.2" height="139.8" fill="#fff" stroke="#262626" stroke-width="1.15"/>
<path d="M471.6 715.4h47.4" stroke="#00ab00" stroke-width="1.2" fill="none"/>
<text transform="translate(522.6 730.5) scale(0.945 1)" font-family="'Liberation Sans', Arial, Helvetica, sans-serif" font-size="29.8" font-weight="bold" text-anchor="start" fill="#000" stroke="#000" stroke-width="0.4" stroke-linejoin="round">h=100nm, swa=80</text>
<text transform="translate(761.8 720.1) scale(0.945 1)" font-family="'Liberation Sans', Arial, Helvetica, sans-serif" font-size="27" font-weight="normal" text-anchor="start" fill="#000">°</text>
<path d="M471.6 760.5h47.4" stroke="#ffa500" stroke-width="1.2" fill="none"/>
<text transform="translate(522.6 775.6) scale(0.945 1)" font-family="'Liberation Sans', Arial, Helvetica, sans-serif" font-size="29.8" font-weight="bold" text-anchor="start" fill="#000" stroke="#000" stroke-width="0.4" stroke-linejoin="round">h=150nm, swa=80</text>
<text transform="translate(761.8 765.2) scale(0.945 1)" font-family="'Liberation Sans', Arial, Helvetica, sans-serif" font-size="27" font-weight="normal" text-anchor="start" fill="#000">°</text>
<path d="M471.6 805.6h47.4" stroke="#ff0000" stroke-width="1.2" fill="none"/>
<text transform="translate(522.6 820.7) scale(0.945 1)" font-family="'Liberation Sans', Arial, Helvetica, sans-serif" font-size="29.8" font-weight="bold" text-anchor="start" fill="#000" stroke="#000" stroke-width="0.4" stroke-linejoin="round">h=225nm, swa=80</text>
<text transform="translate(761.8 810.3) scale(0.945 1)" font-family="'Liberation Sans', Arial, Helvetica, sans-serif" font-size="27" font-weight="normal" text-anchor="start" fill="#000">°</text>
<path d="M1233 36.4H1824.3V1131.6H1233ZM1380.83 1131.6v-10.4M1380.83 36.4v10.4M1528.65 1131.6v-10.4M1528.65 36.4v10.4M1676.47 1131.6v-10.4M1676.47 36.4v10.4M1233 1009.91h10.4M1824.3 1009.91h-10.4M1233 888.22h10.4M1824.3 888.22h-10.4M1233 766.53h10.4M1824.3 766.53h-10.4M1233 644.84h10.4M1824.3 644.84h-10.4M1233 523.16h10.4M1824.3 523.16h-10.4M1233 401.47h10.4M1824.3 401.47h-10.4M1233 279.78h10.4M1824.3 279.78h-10.4M1233 158.09h10.4M1824.3 158.09h-10.4" fill="none" stroke="#262626" stroke-width="1.0" stroke-linecap="square"/>
<text transform="translate(1233.85 1165.2) scale(0.925 1)" font-family="'Liberation Sans', Arial, Helvetica, sans-serif" font-size="34.4" font-weight="bold" text-anchor="middle" fill="#262626" stroke="#262626" stroke-width="0.4" stroke-linejoin="round">100</text>
<text transform="translate(1378.12 1165.2) scale(0.925 1)" font-family="'Liberation Sans', Arial, Helvetica, sans-serif" font-size="34.4" font-weight="bold" text-anchor="middle" fill="#262626" stroke="#262626" stroke-width="0.4" stroke-linejoin="round">150</text>
<text transform="translate(1526.25 1165.2) scale(0.925 1)" font-family="'Liberation Sans', Arial, Helvetica, sans-serif" font-size="34.4" font-weight="bold" text-anchor="middle" fill="#262626" stroke="#262626" stroke-width="0.4" stroke-linejoin="round">200</text>
<text transform="translate(1675.67 1165.2) scale(0.925 1)" font-family="'Liberation Sans', Arial, Helvetica, sans-serif" font-size="34.4" font-weight="bold" text-anchor="middle" fill="#262626" stroke="#262626" stroke-width="0.4" stroke-linejoin="round">250</text>
<text transform="translate(1824.6 1165.2) scale(0.925 1)" font-family="'Liberation Sans', Arial, Helvetica, sans-serif" font-size="34.4" font-weight="bold" text-anchor="middle" fill="#262626" stroke="#262626" stroke-width="0.4" stroke-linejoin="round">300</text>
<text transform="translate(1224.5 1135.7) scale(0.925 1)" font-family="'Liberation Sans', Arial, Helvetica, sans-serif" font-size="34.4" font-weight="bold" text-anchor="end" fill="#262626" stroke="#262626" stroke-width="0.4" stroke-linejoin="round">-1</text>
<text transform="translate(1225.4 1019.81) scale(0.925 1)" font-family="'Liberation Sans', Arial, Helvetica, sans-serif" font-size="34.4" font-weight="bold" text-anchor="end" fill="#262626" stroke="#262626" stroke-width="0.4" stroke-linejoin="round">-0.8</text>
<text transform="translate(1226.6 896.72) scale(0.925 1)" font-family="'Liberation Sans', Arial, Helvetica, sans-serif" font-size="34.4" font-weight="bold" text-anchor="end" fill="#262626" stroke="#262626" stroke-width="0.4" stroke-linejoin="round">-0.6</text>
<text transform="translate(1226.5 779.23) scale(0.925 1)" font-family="'Liberation Sans', Arial, Helvetica, sans-serif" font-size="34.4" font-weight="bold" text-anchor="end" fill="#262626" stroke="#262626" stroke-width="0.4" stroke-linejoin="round">-0.4</text>
<text transform="translate(1227.1 654.14) scale(0.925 1)" font-family="'Liberation Sans', Arial, Helvetica, sans-serif" font-size="34.4" font-weight="bold" text-anchor="end" fill="#262626" stroke="#262626" stroke-width="0.4" stroke-linejoin="round">-0.2</text>
<text transform="translate(1227.1 533.76) scale(0.925 1)" font-family="'Liberation Sans', Arial, Helvetica, sans-serif" font-size="34.4" font-weight="bold" text-anchor="end" fill="#262626" stroke="#262626" stroke-width="0.4" stroke-linejoin="round">0</text>
<text transform="translate(1227.1 413.37) scale(0.925 1)" font-family="'Liberation Sans', Arial, Helvetica, sans-serif" font-size="34.4" font-weight="bold" text-anchor="end" fill="#262626" stroke="#262626" stroke-width="0.4" stroke-linejoin="round">0.2</text>
<text transform="translate(1227.1 290.28) scale(0.925 1)" font-family="'Liberation Sans', Arial, Helvetica, sans-serif" font-size="34.4" font-weight="bold" text-anchor="end" fill="#262626" stroke="#262626" stroke-width="0.4" stroke-linejoin="round">0.4</text>
<text transform="translate(1225.2 172.89) scale(0.925 1)" font-family="'Liberation Sans', Arial, Helvetica, sans-serif" font-size="34.4" font-weight="bold" text-anchor="end" fill="#262626" stroke="#262626" stroke-width="0.4" stroke-linejoin="round">0.6</text>
<text transform="translate(1222.9 51) scale(0.925 1)" font-family="'Liberation Sans', Arial, Helvetica, sans-serif" font-size="34.4" font-weight="bold" text-anchor="end" fill="#262626" stroke="#262626" stroke-width="0.4" stroke-linejoin="round">0.8</text>
<text transform="translate(1522.8 1201.2) scale(0.95 1)" font-family="'Liberation Sans', Arial, Helvetica, sans-serif" font-size="33.6" font-weight="bold" text-anchor="middle" fill="#262626" stroke="#262626" stroke-width="0.4" stroke-linejoin="round">h(nm)</text>
<text transform="translate(1182.3 587.3) rotate(-90) scale(0.88 1)" font-family="'Liberation Serif', 'Times New Roman', serif" font-size="37.4" font-weight="bold" font-style="italic" text-anchor="middle" fill="#000">V</text>
<text transform="translate(1176.9 1214.9)" font-family="'Liberation Serif', 'Times New Roman', serif" font-size="32" font-weight="bold" text-anchor="start" fill="#000">(c)</text>
<path d="M1233 137.4L1306.91 252.5L1380.83 358.8L1454.74 456L1528.65 548.1L1602.56 659.8L1676.47 803.5L1750.39 967.9L1824.3 1101.9" fill="none" stroke="#ff0000" stroke-width="1.3" stroke-linejoin="round"/>
<circle cx="1233" cy="137.4" r="5.6" fill="none" stroke="#ff0000" stroke-width="1.2"/>
<circle cx="1306.91" cy="252.5" r="5.6" fill="none" stroke="#ff0000" stroke-width="1.2"/>
<circle cx="1380.83" cy="358.8" r="5.6" fill="none" stroke="#ff0000" stroke-width="1.2"/>
<circle cx="1454.74" cy="456" r="5.6" fill="none" stroke="#ff0000" stroke-width="1.2"/>
<circle cx="1528.65" cy="548.1" r="5.6" fill="none" stroke="#ff0000" stroke-width="1.2"/>
<circle cx="1602.56" cy="659.8" r="5.6" fill="none" stroke="#ff0000" stroke-width="1.2"/>
<circle cx="1676.47" cy="803.5" r="5.6" fill="none" stroke="#ff0000" stroke-width="1.2"/>
<circle cx="1750.39" cy="967.9" r="5.6" fill="none" stroke="#ff0000" stroke-width="1.2"/>
<circle cx="1824.3" cy="1101.9" r="5.6" fill="none" stroke="#ff0000" stroke-width="1.2"/>
<path d="M1233 171.6L1306.91 264.8L1380.83 333.1L1454.74 390.3L1528.65 451.4L1602.56 528.2L1676.47 629.9L1750.39 769.2L1824.3 952.2" fill="none" stroke="#ff0000" stroke-width="1.3" stroke-linejoin="round"/>
<path d="M1227.4 171.6L1238.6 171.6M1229.36 167.96L1236.64 175.24M1233 166L1233 177.2M1236.64 167.96L1229.36 175.24M1301.31 264.8L1312.51 264.8M1303.27 261.16L1310.56 268.44M1306.91 259.2L1306.91 270.4M1310.56 261.16L1303.27 268.44M1375.23 333.1L1386.42 333.1M1377.18 329.46L1384.47 336.74M1380.83 327.5L1380.83 338.7M1384.47 329.46L1377.18 336.74M1449.14 390.3L1460.34 390.3M1451.09 386.66L1458.38 393.94M1454.74 384.7L1454.74 395.9M1458.38 386.66L1451.09 393.94M1523.05 451.4L1534.25 451.4M1525.01 447.76L1532.29 455.04M1528.65 445.8L1528.65 457M1532.29 447.76L1525.01 455.04M1596.96 528.2L1608.16 528.2M1598.92 524.56L1606.21 531.84M1602.56 522.6L1602.56 533.8M1606.21 524.56L1598.92 531.84M1670.88 629.9L1682.07 629.9M1672.83 626.26L1680.12 633.54M1676.47 624.3L1676.47 635.5M1680.12 626.26L1672.83 633.54M1744.79 769.2L1755.99 769.2M1746.74 765.56L1754.03 772.84M1750.39 763.6L1750.39 774.8M1754.03 765.56L1746.74 772.84M1818.7 952.2L1829.9 952.2M1820.66 948.56L1827.94 955.84M1824.3 946.6L1824.3 957.8M1827.94 948.56L1820.66 955.84" fill="none" stroke="#ff0000" stroke-width="1.1"/>
<path d="M1233 148.9L1306.91 268.7L1380.83 379.2L1454.74 479.8L1528.65 575.8L1602.56 691.7L1676.47 837.8L1750.39 997.9L1824.3 1111.1" fill="none" stroke="#000000" stroke-width="1.3" stroke-linejoin="round"/>
<circle cx="1233" cy="148.9" r="5.6" fill="none" stroke="#000000" stroke-width="1.2"/>
<circle cx="1306.91" cy="268.7" r="5.6" fill="none" stroke="#000000" stroke-width="1.2"/>
<circle cx="1380.83" cy="379.2" r="5.6" fill="none" stroke="#000000" stroke-width="1.2"/>
<circle cx="1454.74" cy="479.8" r="5.6" fill="none" stroke="#000000" stroke-width="1.2"/>
<circle cx="1528.65" cy="575.8" r="5.6" fill="none" stroke="#000000" stroke-width="1.2"/>
<circle cx="1602.56" cy="691.7" r="5.6" fill="none" stroke="#000000" stroke-width="1.2"/>
<circle cx="1676.47" cy="837.8" r="5.6" fill="none" stroke="#000000" stroke-width="1.2"/>
<circle cx="1750.39" cy="997.9" r="5.6" fill="none" stroke="#000000" stroke-width="1.2"/>
<path d="M1233 173.5L1306.91 267.5L1380.83 341L1454.74 400.3L1528.65 465.6L1602.56 547L1676.47 656.4L1750.39 804.5L1824.3 988.7" fill="none" stroke="#000000" stroke-width="1.3" stroke-linejoin="round"/>
<path d="M1227.4 173.5L1238.6 173.5M1229.36 169.86L1236.64 177.14M1233 167.9L1233 179.1M1236.64 169.86L1229.36 177.14M1301.31 267.5L1312.51 267.5M1303.27 263.86L1310.56 271.14M1306.91 261.9L1306.91 273.1M1310.56 263.86L1303.27 271.14M1375.23 341L1386.42 341M1377.18 337.36L1384.47 344.64M1380.83 335.4L1380.83 346.6M1384.47 337.36L1377.18 344.64M1449.14 400.3L1460.34 400.3M1451.09 396.66L1458.38 403.94M1454.74 394.7L1454.74 405.9M1458.38 396.66L1451.09 403.94M1523.05 465.6L1534.25 465.6M1525.01 461.96L1532.29 469.24M1528.65 460L1528.65 471.2M1532.29 461.96L1525.01 469.24M1596.96 547L1608.16 547M1598.92 543.36L1606.21 550.64M1602.56 541.4L1602.56 552.6M1606.21 543.36L1598.92 550.64M1670.88 656.4L1682.07 656.4M1672.83 652.76L1680.12 660.04M1676.47 650.8L1676.47 662M1680.12 652.76L1672.83 660.04M1744.79 804.5L1755.99 804.5M1746.74 800.86L1754.03 808.14M1750.39 798.9L1750.39 810.1M1754.03 800.86L1746.74 808.14M1818.7 988.7L1829.9 988.7M1820.66 985.06L1827.94 992.34M1824.3 983.1L1824.3 994.3M1827.94 985.06L1820.66 992.34" fill="none" stroke="#000000" stroke-width="1.1"/>
<path d="M1233 162L1306.91 287.1L1380.83 399.9L1454.74 500.9L1528.65 596.9L1602.56 713.2L1676.47 858.2L1750.39 1010.9L1824.3 1111.1" fill="none" stroke="#0072ff" stroke-width="1.3" stroke-linejoin="round"/>
<circle cx="1233" cy="162" r="5.6" fill="none" stroke="#0072ff" stroke-width="1.2"/>
<circle cx="1306.91" cy="287.1" r="5.6" fill="none" stroke="#0072ff" stroke-width="1.2"/>
<circle cx="1380.83" cy="399.9" r="5.6" fill="none" stroke="#0072ff" stroke-width="1.2"/>
<circle cx="1454.74" cy="500.9" r="5.6" fill="none" stroke="#0072ff" stroke-width="1.2"/>
<circle cx="1528.65" cy="596.9" r="5.6" fill="none" stroke="#0072ff" stroke-width="1.2"/>
<circle cx="1602.56" cy="713.2" r="5.6" fill="none" stroke="#0072ff" stroke-width="1.2"/>
<circle cx="1676.47" cy="858.2" r="5.6" fill="none" stroke="#0072ff" stroke-width="1.2"/>
<circle cx="1750.39" cy="1010.9" r="5.6" fill="none" stroke="#0072ff" stroke-width="1.2"/>
<circle cx="1824.3" cy="1111.1" r="5.6" fill="none" stroke="#0072ff" stroke-width="1.2"/>
<path d="M1233 177.7L1306.91 271.7L1380.83 348.5L1454.74 409.9L1528.65 477.9L1602.56 563.9L1676.47 679L1750.39 832.5L1824.3 1016.7" fill="none" stroke="#0072ff" stroke-width="1.3" stroke-linejoin="round"/>
<path d="M1227.4 177.7L1238.6 177.7M1229.36 174.06L1236.64 181.34M1233 172.1L1233 183.3M1236.64 174.06L1229.36 181.34M1301.31 271.7L1312.51 271.7M1303.27 268.06L1310.56 275.34M1306.91 266.1L1306.91 277.3M1310.56 268.06L1303.27 275.34M1375.23 348.5L1386.42 348.5M1377.18 344.86L1384.47 352.14M1380.83 342.9L1380.83 354.1M1384.47 344.86L1377.18 352.14M1449.14 409.9L1460.34 409.9M1451.09 406.26L1458.38 413.54M1454.74 404.3L1454.74 415.5M1458.38 406.26L1451.09 413.54M1523.05 477.9L1534.25 477.9M1525.01 474.26L1532.29 481.54M1528.65 472.3L1528.65 483.5M1532.29 474.26L1525.01 481.54M1596.96 563.9L1608.16 563.9M1598.92 560.26L1606.21 567.54M1602.56 558.3L1602.56 569.5M1606.21 560.26L1598.92 567.54M1670.88 679L1682.07 679M1672.83 675.36L1680.12 682.64M1676.47 673.4L1676.47 684.6M1680.12 675.36L1672.83 682.64M1744.79 832.5L1755.99 832.5M1746.74 828.86L1754.03 836.14M1750.39 826.9L1750.39 838.1M1754.03 828.86L1746.74 836.14M1818.7 1016.7L1829.9 1016.7M1820.66 1013.06L1827.94 1020.34M1824.3 1011.1L1824.3 1022.3M1827.94 1013.06L1820.66 1020.34" fill="none" stroke="#0072ff" stroke-width="1.1"/>
<rect x="1459.6" y="68.4" width="343.1" height="233.9" fill="#fff" stroke="#262626" stroke-width="1.15"/>
<path d="M1465.2 91.5h53.4" stroke="#ff0000" stroke-width="1.25" fill="none"/>
<circle cx="1491.9" cy="91.5" r="5.6" fill="none" stroke="#ff0000" stroke-width="1.2"/>
<text transform="translate(1522.6 103.5) scale(0.95 1)" font-family="'Liberation Sans', Arial, Helvetica, sans-serif" font-size="33.4" font-weight="bold" fill="#000" stroke="#000" stroke-width="0.4" stroke-linejoin="round">swa=70<tspan font-size="28.5" dy="-4.6" dx="-0.3">°</tspan><tspan dy="4.6" dx="-1.2" letter-spacing="0.22">, pol=TM</tspan></text>
<path d="M1465.2 128.4h53.4" stroke="#ff0000" stroke-width="1.25" fill="none"/>
<path d="M1486.3 128.4L1497.5 128.4M1488.26 124.76L1495.54 132.04M1491.9 122.8L1491.9 134M1495.54 124.76L1488.26 132.04" fill="none" stroke="#ff0000" stroke-width="1.1"/>
<text transform="translate(1522.6 140.4) scale(0.95 1)" font-family="'Liberation Sans', Arial, Helvetica, sans-serif" font-size="33.4" font-weight="bold" fill="#000" stroke="#000" stroke-width="0.4" stroke-linejoin="round">swa=70<tspan font-size="28.5" dy="-4.6" dx="-0.3">°</tspan><tspan dy="4.6" dx="-1.2" letter-spacing="0.22">, pol=TE</tspan></text>
<path d="M1465.2 165.2h53.4" stroke="#000000" stroke-width="1.25" fill="none"/>
<circle cx="1491.9" cy="165.2" r="5.6" fill="none" stroke="#000000" stroke-width="1.2"/>
<text transform="translate(1522.6 177.2) scale(0.95 1)" font-family="'Liberation Sans', Arial, Helvetica, sans-serif" font-size="33.4" font-weight="bold" fill="#000" stroke="#000" stroke-width="0.4" stroke-linejoin="round">swa=80<tspan font-size="28.5" dy="-4.6" dx="-0.3">°</tspan><tspan dy="4.6" dx="-1.2" letter-spacing="0.22">, pol=TM</tspan></text>
<path d="M1465.2 201.9h53.4" stroke="#000000" stroke-width="1.25" fill="none"/>
<path d="M1486.3 201.9L1497.5 201.9M1488.26 198.26L1495.54 205.54M1491.9 196.3L1491.9 207.5M1495.54 198.26L1488.26 205.54" fill="none" stroke="#000000" stroke-width="1.1"/>
<text transform="translate(1522.6 213.9) scale(0.95 1)" font-family="'Liberation Sans', Arial, Helvetica, sans-serif" font-size="33.4" font-weight="bold" fill="#000" stroke="#000" stroke-width="0.4" stroke-linejoin="round">swa=80<tspan font-size="28.5" dy="-4.6" dx="-0.3">°</tspan><tspan dy="4.6" dx="-1.2" letter-spacing="0.22">, pol=TE</tspan></text>
<path d="M1465.2 236.5h53.4" stroke="#0072ff" stroke-width="1.25" fill="none"/>
<circle cx="1491.9" cy="236.5" r="5.6" fill="none" stroke="#0072ff" stroke-width="1.2"/>
<text transform="translate(1522.6 248.5) scale(0.95 1)" font-family="'Liberation Sans', Arial, Helvetica, sans-serif" font-size="33.4" font-weight="bold" fill="#000" stroke="#000" stroke-width="0.4" stroke-linejoin="round">swa=90<tspan font-size="28.5" dy="-4.6" dx="-0.3">°</tspan><tspan dy="4.6" dx="-1.2" letter-spacing="0.22">, pol=TM</tspan></text>
<path d="M1465.2 273.2h53.4" stroke="#0072ff" stroke-width="1.25" fill="none"/>
<path d="M1486.3 273.2L1497.5 273.2M1488.26 269.56L1495.54 276.84M1491.9 267.6L1491.9 278.8M1495.54 269.56L1488.26 276.84" fill="none" stroke="#0072ff" stroke-width="1.1"/>
<text transform="translate(1522.6 285.2) scale(0.95 1)" font-family="'Liberation Sans', Arial, Helvetica, sans-serif" font-size="33.4" font-weight="bold" fill="#000" stroke="#000" stroke-width="0.4" stroke-linejoin="round">swa=90<tspan font-size="28.5" dy="-4.6" dx="-0.3">°</tspan><tspan dy="4.6" dx="-1.2" letter-spacing="0.22">, pol=TE</tspan></text>
</svg>
</body></html>
